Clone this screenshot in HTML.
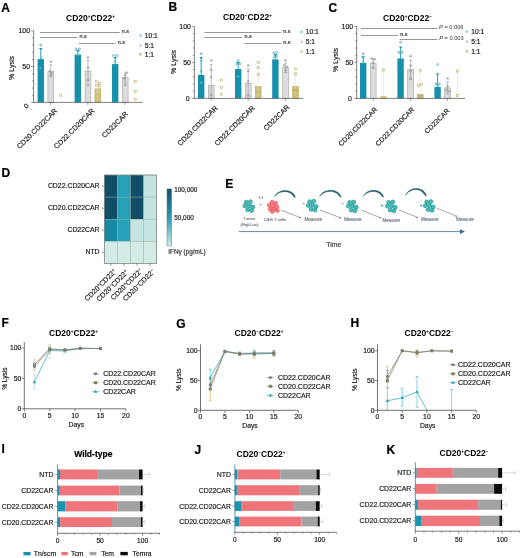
<!DOCTYPE html>
<html lang="en">
<head>
<meta charset="utf-8">
<title>Figure</title>
<style>html,body{margin:0;padding:0;background:#fff;}svg{display:block;}</style>
</head>
<body>
<svg width="520" height="558" viewBox="0 0 520 558" font-family='"Liberation Sans", Arial, Helvetica, sans-serif'>
<rect x="0" y="0" width="520" height="558" fill="#ffffff"/>
<text x="1.3" y="11.7" font-size="12" text-anchor="start" font-weight="bold" stroke="#000" stroke-width="0.2" fill="#000">A</text>
<text x="66" y="21" font-size="8.5" font-weight="bold" fill="#000">CD20<tspan font-size="4.6" dy="-3.1">+</tspan><tspan dy="3.1">CD22</tspan><tspan font-size="4.6" dy="-3.1">+</tspan></text>
<rect x="37.6" y="59.15" width="6.4" height="43.25" fill="#1790ab" stroke="none" stroke-width="0.5"/>
<line x1="40.8" y1="59.15" x2="40.8" y2="48.34" stroke="#1790ab" stroke-width="0.9"/>
<path d="M38.9 47.94 L42.7 47.94 L40.8 49.94 Z" fill="#1790ab"/>
<circle cx="40.8" cy="45.12" r="1.05" fill="#9fd3df" fill-opacity="0.55" stroke="#41a9c0" stroke-width="0.6"/>
<circle cx="41.1" cy="58.01" r="1.05" fill="#9fd3df" fill-opacity="0.55" stroke="#41a9c0" stroke-width="0.6"/>
<circle cx="40.3" cy="68.03" r="1.05" fill="#9fd3df" fill-opacity="0.55" stroke="#41a9c0" stroke-width="0.6"/>
<rect x="47.9" y="71.38" width="5.8" height="31.03" fill="#dcdcdc" stroke="#a3a3a3" stroke-width="0.6"/>
<line x1="50.8" y1="76.62" x2="50.8" y2="64.81" stroke="#8c8c8c" stroke-width="0.55"/>
<line x1="49.3" y1="64.81" x2="52.3" y2="64.81" stroke="#8c8c8c" stroke-width="0.55"/>
<line x1="49.3" y1="76.62" x2="52.3" y2="76.62" stroke="#8c8c8c" stroke-width="0.55"/>
<path d="M50.8 60.54 L51.85 62.43 L49.75 62.43 Z" fill="#b9b9b9" stroke="#8c8c8c" stroke-width="0.5"/>
<path d="M49.8 69.85 L50.85 71.74 L48.75 71.74 Z" fill="#b9b9b9" stroke="#8c8c8c" stroke-width="0.5"/>
<path d="M51.8 71.99 L52.85 73.88 L50.75 73.88 Z" fill="#b9b9b9" stroke="#8c8c8c" stroke-width="0.5"/>
<path d="M50.8 74.14 L51.85 76.03 L49.75 76.03 Z" fill="#b9b9b9" stroke="#8c8c8c" stroke-width="0.5"/>
<rect x="59.8" y="94.24" width="2" height="2" fill="none" stroke="#b9a85c" stroke-width="0.55"/>
<rect x="74.6" y="54.57" width="6.4" height="47.83" fill="#1790ab" stroke="none" stroke-width="0.5"/>
<line x1="77.8" y1="54.57" x2="77.8" y2="50.49" stroke="#1790ab" stroke-width="0.9"/>
<path d="M75.9 50.09 L79.7 50.09 L77.8 52.09 Z" fill="#1790ab"/>
<circle cx="76.2" cy="49.06" r="1.05" fill="#9fd3df" fill-opacity="0.55" stroke="#41a9c0" stroke-width="0.6"/>
<circle cx="79.4" cy="49.06" r="1.05" fill="#9fd3df" fill-opacity="0.55" stroke="#41a9c0" stroke-width="0.6"/>
<circle cx="77.8" cy="55.14" r="1.05" fill="#9fd3df" fill-opacity="0.55" stroke="#41a9c0" stroke-width="0.6"/>
<rect x="85.1" y="71.2" width="5.8" height="31.2" fill="#dcdcdc" stroke="#a3a3a3" stroke-width="0.6"/>
<line x1="88" y1="80.92" x2="88" y2="60.51" stroke="#8c8c8c" stroke-width="0.55"/>
<line x1="86.5" y1="60.51" x2="89.5" y2="60.51" stroke="#8c8c8c" stroke-width="0.55"/>
<line x1="86.5" y1="80.92" x2="89.5" y2="80.92" stroke="#8c8c8c" stroke-width="0.55"/>
<path d="M88 56.24 L89.05 58.13 L86.95 58.13 Z" fill="#b9b9b9" stroke="#8c8c8c" stroke-width="0.5"/>
<path d="M88 66.27 L89.05 68.16 L86.95 68.16 Z" fill="#b9b9b9" stroke="#8c8c8c" stroke-width="0.5"/>
<path d="M88 78.44 L89.05 80.33 L86.95 80.33 Z" fill="#b9b9b9" stroke="#8c8c8c" stroke-width="0.5"/>
<path d="M88 83.45 L89.05 85.34 L86.95 85.34 Z" fill="#b9b9b9" stroke="#8c8c8c" stroke-width="0.5"/>
<rect x="94.9" y="88.88" width="5.8" height="13.52" fill="#d0c380" stroke="#b5a659" stroke-width="0.6"/>
<line x1="97.8" y1="92.38" x2="97.8" y2="84.5" stroke="#e3dcb8" stroke-width="0.55"/>
<line x1="96.3" y1="84.5" x2="99.3" y2="84.5" stroke="#e3dcb8" stroke-width="0.55"/>
<line x1="96.3" y1="92.38" x2="99.3" y2="92.38" stroke="#e3dcb8" stroke-width="0.55"/>
<rect x="95.3" y="80.64" width="2" height="2" fill="none" stroke="#b9a85c" stroke-width="0.55"/>
<rect x="98.3" y="82.07" width="2" height="2" fill="none" stroke="#b9a85c" stroke-width="0.55"/>
<rect x="95.3" y="84.22" width="2" height="2" fill="none" stroke="#b9a85c" stroke-width="0.55"/>
<rect x="98.3" y="84.93" width="2" height="2" fill="none" stroke="#b9a85c" stroke-width="0.55"/>
<rect x="112" y="64.09" width="6.4" height="38.31" fill="#1790ab" stroke="none" stroke-width="0.5"/>
<line x1="115.2" y1="64.09" x2="115.2" y2="57.29" stroke="#1790ab" stroke-width="0.9"/>
<path d="M113.3 56.89 L117.1 56.89 L115.2 58.89 Z" fill="#1790ab"/>
<circle cx="113.6" cy="55.5" r="1.05" fill="#9fd3df" fill-opacity="0.55" stroke="#41a9c0" stroke-width="0.6"/>
<circle cx="116.8" cy="55.5" r="1.05" fill="#9fd3df" fill-opacity="0.55" stroke="#41a9c0" stroke-width="0.6"/>
<circle cx="115.2" cy="61.59" r="1.05" fill="#9fd3df" fill-opacity="0.55" stroke="#41a9c0" stroke-width="0.6"/>
<rect x="122.3" y="77.35" width="5.8" height="25.05" fill="#dcdcdc" stroke="#a3a3a3" stroke-width="0.6"/>
<line x1="125.2" y1="82.35" x2="125.2" y2="73.04" stroke="#8c8c8c" stroke-width="0.55"/>
<line x1="123.7" y1="73.04" x2="126.7" y2="73.04" stroke="#8c8c8c" stroke-width="0.55"/>
<line x1="123.7" y1="82.35" x2="126.7" y2="82.35" stroke="#8c8c8c" stroke-width="0.55"/>
<path d="M126.7 71.28 L127.75 73.17 L125.65 73.17 Z" fill="#b9b9b9" stroke="#8c8c8c" stroke-width="0.5"/>
<path d="M125.2 74.14 L126.25 76.03 L124.15 76.03 Z" fill="#b9b9b9" stroke="#8c8c8c" stroke-width="0.5"/>
<path d="M124 77.01 L125.05 78.9 L122.95 78.9 Z" fill="#b9b9b9" stroke="#8c8c8c" stroke-width="0.5"/>
<path d="M125.2 83.45 L126.25 85.34 L124.15 85.34 Z" fill="#b9b9b9" stroke="#8c8c8c" stroke-width="0.5"/>
<rect x="134.2" y="80.64" width="2" height="2" fill="none" stroke="#b9a85c" stroke-width="0.55"/>
<rect x="134.2" y="90.66" width="2" height="2" fill="none" stroke="#b9a85c" stroke-width="0.55"/>
<rect x="134.2" y="98.54" width="2" height="2" fill="none" stroke="#b9a85c" stroke-width="0.55"/>
<line x1="33.6" y1="30.6" x2="33.6" y2="102.75" stroke="#4d4d4d" stroke-width="0.7"/>
<line x1="33.25" y1="102.4" x2="142.4" y2="102.4" stroke="#4d4d4d" stroke-width="0.7"/>
<line x1="31" y1="102.4" x2="33.6" y2="102.4" stroke="#4d4d4d" stroke-width="0.55"/>
<line x1="32" y1="95.24" x2="33.6" y2="95.24" stroke="#4d4d4d" stroke-width="0.55"/>
<line x1="32" y1="88.08" x2="33.6" y2="88.08" stroke="#4d4d4d" stroke-width="0.55"/>
<line x1="32" y1="80.92" x2="33.6" y2="80.92" stroke="#4d4d4d" stroke-width="0.55"/>
<line x1="32" y1="73.76" x2="33.6" y2="73.76" stroke="#4d4d4d" stroke-width="0.55"/>
<line x1="31" y1="66.6" x2="33.6" y2="66.6" stroke="#4d4d4d" stroke-width="0.55"/>
<line x1="32" y1="59.44" x2="33.6" y2="59.44" stroke="#4d4d4d" stroke-width="0.55"/>
<line x1="32" y1="52.28" x2="33.6" y2="52.28" stroke="#4d4d4d" stroke-width="0.55"/>
<line x1="32" y1="45.12" x2="33.6" y2="45.12" stroke="#4d4d4d" stroke-width="0.55"/>
<line x1="32" y1="37.96" x2="33.6" y2="37.96" stroke="#4d4d4d" stroke-width="0.55"/>
<line x1="31" y1="30.8" x2="33.6" y2="30.8" stroke="#4d4d4d" stroke-width="0.55"/>
<text x="30" y="33.3" font-size="6.9" text-anchor="end" stroke="#1a1a1a" stroke-width="0.18" fill="#1a1a1a">100</text>
<text x="30" y="69.1" font-size="6.9" text-anchor="end" stroke="#1a1a1a" stroke-width="0.18" fill="#1a1a1a">50</text>
<text transform="translate(26,105.9) rotate(-45)" x="0" y="2.45" font-size="6.9" text-anchor="middle" fill="#1a1a1a" stroke="#1a1a1a" stroke-width="0.18">0</text>
<line x1="50.6" y1="102.4" x2="50.6" y2="104.8" stroke="#4d4d4d" stroke-width="0.55"/>
<text x="0" y="0" transform="translate(57.8,111.2) rotate(-45)" font-size="7.2" text-anchor="end" stroke="#1a1a1a" stroke-width="0.18" fill="#1a1a1a">CD20.CD22CAR</text>
<line x1="87.8" y1="102.4" x2="87.8" y2="104.8" stroke="#4d4d4d" stroke-width="0.55"/>
<text x="0" y="0" transform="translate(95,111.2) rotate(-45)" font-size="7.2" text-anchor="end" stroke="#1a1a1a" stroke-width="0.18" fill="#1a1a1a">CD22.CD20CAR</text>
<line x1="125" y1="102.4" x2="125" y2="104.8" stroke="#4d4d4d" stroke-width="0.55"/>
<text x="0" y="0" transform="translate(128.5,114.4) rotate(-45)" font-size="7.2" text-anchor="end" stroke="#1a1a1a" stroke-width="0.18" fill="#1a1a1a">CD22CAR</text>
<text x="0" y="0" transform="translate(13.7,68) rotate(-90)" font-size="7" text-anchor="middle" stroke="#1a1a1a" stroke-width="0.18" fill="#1a1a1a">% Lysis</text>
<line x1="40" y1="32.5" x2="119.6" y2="32.5" stroke="#505050" stroke-width="0.6"/>
<text x="121.8" y="33.4" font-size="5.4" text-anchor="start" stroke="#333" stroke-width="0.18" fill="#333">n.s</text>
<line x1="40" y1="37.5" x2="77.4" y2="37.5" stroke="#505050" stroke-width="0.6"/>
<text x="79.6" y="38.4" font-size="5.4" text-anchor="start" stroke="#333" stroke-width="0.18" fill="#333">n.s</text>
<line x1="79" y1="43.5" x2="115.6" y2="43.5" stroke="#505050" stroke-width="0.6"/>
<text x="117.8" y="44.4" font-size="5.4" text-anchor="start" stroke="#333" stroke-width="0.18" fill="#333">n.s</text>
<circle cx="140.6" cy="35.6" r="1.0" fill="#a8d9e2" stroke="#5bb9cc" stroke-width="0.5"/>
<text x="144.8" y="37.95" font-size="6.7" text-anchor="start" stroke="#1a1a1a" stroke-width="0.18" fill="#1a1a1a">10:1</text>
<path d="M140.6 44.2 l1 1.8 l-2 0 Z" fill="#cfcfcf" stroke="#9a9a9a" stroke-width="0.45"/>
<text x="144.8" y="47.55" font-size="6.7" text-anchor="start" stroke="#1a1a1a" stroke-width="0.18" fill="#1a1a1a">5:1</text>
<rect x="139.75" y="53.55" width="1.7" height="1.7" fill="#e2d9a8" stroke="#c2b36a" stroke-width="0.5"/>
<text x="144.8" y="56.75" font-size="6.7" text-anchor="start" stroke="#1a1a1a" stroke-width="0.18" fill="#1a1a1a">1:1</text>
<text x="168.4" y="11.2" font-size="12" text-anchor="start" font-weight="bold" stroke="#000" stroke-width="0.2" fill="#000">B</text>
<text x="223" y="20.1" font-size="8.5" font-weight="bold" fill="#000">CD20<tspan font-size="4.6" dy="-3.1">−</tspan><tspan dy="3.1">CD22</tspan><tspan font-size="4.6" dy="-3.1">+</tspan></text>
<rect x="198" y="75" width="6.4" height="23.4" fill="#1790ab" stroke="none" stroke-width="0.5"/>
<line x1="201.2" y1="75" x2="201.2" y2="57.36" stroke="#1790ab" stroke-width="0.9"/>
<path d="M199.3 56.96 L203.1 56.96 L201.2 58.96 Z" fill="#1790ab"/>
<circle cx="201.2" cy="53.76" r="1.05" fill="#9fd3df" fill-opacity="0.55" stroke="#41a9c0" stroke-width="0.6"/>
<circle cx="201.2" cy="60.96" r="1.05" fill="#9fd3df" fill-opacity="0.55" stroke="#41a9c0" stroke-width="0.6"/>
<circle cx="201.2" cy="71.04" r="1.05" fill="#9fd3df" fill-opacity="0.55" stroke="#41a9c0" stroke-width="0.6"/>
<circle cx="201.2" cy="82.56" r="1.05" fill="#9fd3df" fill-opacity="0.55" stroke="#41a9c0" stroke-width="0.6"/>
<rect x="208.3" y="85.31" width="5.8" height="13.09" fill="#dcdcdc" stroke="#a3a3a3" stroke-width="0.6"/>
<line x1="211.2" y1="98.4" x2="211.2" y2="64.56" stroke="#8c8c8c" stroke-width="0.55"/>
<line x1="209.7" y1="64.56" x2="212.7" y2="64.56" stroke="#8c8c8c" stroke-width="0.55"/>
<path d="M211.2 59.19 L212.25 61.08 L210.15 61.08 Z" fill="#b9b9b9" stroke="#8c8c8c" stroke-width="0.5"/>
<path d="M211.2 68.55 L212.25 70.44 L210.15 70.44 Z" fill="#b9b9b9" stroke="#8c8c8c" stroke-width="0.5"/>
<path d="M211.2 75.75 L212.25 77.64 L210.15 77.64 Z" fill="#b9b9b9" stroke="#8c8c8c" stroke-width="0.5"/>
<path d="M211.2 93.75 L212.25 95.64 L210.15 95.64 Z" fill="#b9b9b9" stroke="#8c8c8c" stroke-width="0.5"/>
<rect x="220.2" y="79.04" width="2" height="2" fill="none" stroke="#b9a85c" stroke-width="0.55"/>
<rect x="220.2" y="86.6" width="2" height="2" fill="none" stroke="#b9a85c" stroke-width="0.55"/>
<rect x="220.2" y="93.08" width="2" height="2" fill="none" stroke="#b9a85c" stroke-width="0.55"/>
<rect x="235" y="69.02" width="6.4" height="29.38" fill="#1790ab" stroke="none" stroke-width="0.5"/>
<line x1="238.2" y1="69.02" x2="238.2" y2="62.4" stroke="#1790ab" stroke-width="0.9"/>
<path d="M236.3 62 L240.1 62 L238.2 64 Z" fill="#1790ab"/>
<circle cx="238.2" cy="60.6" r="1.05" fill="#9fd3df" fill-opacity="0.55" stroke="#41a9c0" stroke-width="0.6"/>
<circle cx="236.6" cy="63.84" r="1.05" fill="#9fd3df" fill-opacity="0.55" stroke="#41a9c0" stroke-width="0.6"/>
<circle cx="239.8" cy="63.84" r="1.05" fill="#9fd3df" fill-opacity="0.55" stroke="#41a9c0" stroke-width="0.6"/>
<circle cx="238.2" cy="76.8" r="1.05" fill="#9fd3df" fill-opacity="0.55" stroke="#41a9c0" stroke-width="0.6"/>
<rect x="245.3" y="83.29" width="5.8" height="15.11" fill="#dcdcdc" stroke="#a3a3a3" stroke-width="0.6"/>
<line x1="248.2" y1="96.24" x2="248.2" y2="68.88" stroke="#8c8c8c" stroke-width="0.55"/>
<line x1="246.7" y1="68.88" x2="249.7" y2="68.88" stroke="#8c8c8c" stroke-width="0.55"/>
<line x1="246.7" y1="96.24" x2="249.7" y2="96.24" stroke="#8c8c8c" stroke-width="0.55"/>
<path d="M248.2 64.23 L249.25 66.12 L247.15 66.12 Z" fill="#b9b9b9" stroke="#8c8c8c" stroke-width="0.5"/>
<path d="M248.2 69.99 L249.25 71.88 L247.15 71.88 Z" fill="#b9b9b9" stroke="#8c8c8c" stroke-width="0.5"/>
<path d="M248.2 80.07 L249.25 81.96 L247.15 81.96 Z" fill="#b9b9b9" stroke="#8c8c8c" stroke-width="0.5"/>
<path d="M248.2 93.75 L249.25 95.64 L247.15 95.64 Z" fill="#b9b9b9" stroke="#8c8c8c" stroke-width="0.5"/>
<rect x="255.3" y="86.32" width="5.8" height="12.08" fill="#d0c380" stroke="#b5a659" stroke-width="0.6"/>
<line x1="258.2" y1="94.8" x2="258.2" y2="68.16" stroke="#e3dcb8" stroke-width="0.55"/>
<line x1="256.7" y1="68.16" x2="259.7" y2="68.16" stroke="#e3dcb8" stroke-width="0.55"/>
<line x1="256.7" y1="94.8" x2="259.7" y2="94.8" stroke="#e3dcb8" stroke-width="0.55"/>
<rect x="257.2" y="61.4" width="2" height="2" fill="none" stroke="#b9a85c" stroke-width="0.55"/>
<rect x="257.2" y="66.44" width="2" height="2" fill="none" stroke="#b9a85c" stroke-width="0.55"/>
<rect x="257.2" y="73.64" width="2" height="2" fill="none" stroke="#b9a85c" stroke-width="0.55"/>
<rect x="257.2" y="91.64" width="2" height="2" fill="none" stroke="#b9a85c" stroke-width="0.55"/>
<rect x="272.2" y="59.38" width="6.4" height="39.02" fill="#1790ab" stroke="none" stroke-width="0.5"/>
<line x1="275.4" y1="59.38" x2="275.4" y2="54.48" stroke="#1790ab" stroke-width="0.9"/>
<path d="M273.5 54.08 L277.3 54.08 L275.4 56.08 Z" fill="#1790ab"/>
<circle cx="273.9" cy="52.68" r="1.05" fill="#9fd3df" fill-opacity="0.55" stroke="#41a9c0" stroke-width="0.6"/>
<circle cx="276.9" cy="52.68" r="1.05" fill="#9fd3df" fill-opacity="0.55" stroke="#41a9c0" stroke-width="0.6"/>
<circle cx="274.2" cy="56.64" r="1.05" fill="#9fd3df" fill-opacity="0.55" stroke="#41a9c0" stroke-width="0.6"/>
<circle cx="276.8" cy="56.28" r="1.05" fill="#9fd3df" fill-opacity="0.55" stroke="#41a9c0" stroke-width="0.6"/>
<rect x="282.7" y="67.31" width="5.8" height="31.09" fill="#dcdcdc" stroke="#a3a3a3" stroke-width="0.6"/>
<line x1="285.6" y1="72.48" x2="285.6" y2="63.12" stroke="#8c8c8c" stroke-width="0.55"/>
<line x1="284.1" y1="63.12" x2="287.1" y2="63.12" stroke="#8c8c8c" stroke-width="0.55"/>
<line x1="284.1" y1="72.48" x2="287.1" y2="72.48" stroke="#8c8c8c" stroke-width="0.55"/>
<path d="M285.6 59.19 L286.65 61.08 L284.55 61.08 Z" fill="#b9b9b9" stroke="#8c8c8c" stroke-width="0.5"/>
<path d="M284.1 64.23 L285.15 66.12 L283.05 66.12 Z" fill="#b9b9b9" stroke="#8c8c8c" stroke-width="0.5"/>
<path d="M287.1 65.67 L288.15 67.56 L286.05 67.56 Z" fill="#b9b9b9" stroke="#8c8c8c" stroke-width="0.5"/>
<path d="M285.6 68.55 L286.65 70.44 L284.55 70.44 Z" fill="#b9b9b9" stroke="#8c8c8c" stroke-width="0.5"/>
<rect x="292.7" y="86.68" width="5.8" height="11.72" fill="#d0c380" stroke="#b5a659" stroke-width="0.6"/>
<line x1="295.6" y1="96.24" x2="295.6" y2="72.48" stroke="#e3dcb8" stroke-width="0.55"/>
<line x1="294.1" y1="72.48" x2="297.1" y2="72.48" stroke="#e3dcb8" stroke-width="0.55"/>
<line x1="294.1" y1="96.24" x2="297.1" y2="96.24" stroke="#e3dcb8" stroke-width="0.55"/>
<rect x="294.6" y="67.88" width="2" height="2" fill="none" stroke="#b9a85c" stroke-width="0.55"/>
<rect x="294.6" y="72.92" width="2" height="2" fill="none" stroke="#b9a85c" stroke-width="0.55"/>
<rect x="293.2" y="89.48" width="2" height="2" fill="none" stroke="#b9a85c" stroke-width="0.55"/>
<rect x="296" y="89.48" width="2" height="2" fill="none" stroke="#b9a85c" stroke-width="0.55"/>
<rect x="294.6" y="94.52" width="2" height="2" fill="none" stroke="#b9a85c" stroke-width="0.55"/>
<line x1="194.4" y1="26.2" x2="194.4" y2="98.75" stroke="#4d4d4d" stroke-width="0.7"/>
<line x1="194.05" y1="98.4" x2="303" y2="98.4" stroke="#4d4d4d" stroke-width="0.7"/>
<line x1="191.8" y1="98.4" x2="194.4" y2="98.4" stroke="#4d4d4d" stroke-width="0.55"/>
<line x1="192.8" y1="91.2" x2="194.4" y2="91.2" stroke="#4d4d4d" stroke-width="0.55"/>
<line x1="192.8" y1="84" x2="194.4" y2="84" stroke="#4d4d4d" stroke-width="0.55"/>
<line x1="192.8" y1="76.8" x2="194.4" y2="76.8" stroke="#4d4d4d" stroke-width="0.55"/>
<line x1="192.8" y1="69.6" x2="194.4" y2="69.6" stroke="#4d4d4d" stroke-width="0.55"/>
<line x1="191.8" y1="62.4" x2="194.4" y2="62.4" stroke="#4d4d4d" stroke-width="0.55"/>
<line x1="192.8" y1="55.2" x2="194.4" y2="55.2" stroke="#4d4d4d" stroke-width="0.55"/>
<line x1="192.8" y1="48" x2="194.4" y2="48" stroke="#4d4d4d" stroke-width="0.55"/>
<line x1="192.8" y1="40.8" x2="194.4" y2="40.8" stroke="#4d4d4d" stroke-width="0.55"/>
<line x1="192.8" y1="33.6" x2="194.4" y2="33.6" stroke="#4d4d4d" stroke-width="0.55"/>
<line x1="191.8" y1="26.4" x2="194.4" y2="26.4" stroke="#4d4d4d" stroke-width="0.55"/>
<text x="190.8" y="28.9" font-size="6.9" text-anchor="end" stroke="#1a1a1a" stroke-width="0.18" fill="#1a1a1a">100</text>
<text x="190.8" y="64.9" font-size="6.9" text-anchor="end" stroke="#1a1a1a" stroke-width="0.18" fill="#1a1a1a">50</text>
<text x="189.5" y="101.3" font-size="6.9" text-anchor="end" stroke="#1a1a1a" stroke-width="0.18" fill="#1a1a1a">0</text>
<line x1="211.2" y1="98.4" x2="211.2" y2="100.8" stroke="#4d4d4d" stroke-width="0.55"/>
<text x="0" y="0" transform="translate(218.1,108.5) rotate(-45)" font-size="7.1" text-anchor="end" stroke="#1a1a1a" stroke-width="0.18" fill="#1a1a1a">CD20.CD22CAR</text>
<line x1="248.2" y1="98.4" x2="248.2" y2="100.8" stroke="#4d4d4d" stroke-width="0.55"/>
<text x="0" y="0" transform="translate(255.1,108.5) rotate(-45)" font-size="7.1" text-anchor="end" stroke="#1a1a1a" stroke-width="0.18" fill="#1a1a1a">CD22.CD20CAR</text>
<line x1="285.6" y1="98.4" x2="285.6" y2="100.8" stroke="#4d4d4d" stroke-width="0.55"/>
<text x="0" y="0" transform="translate(289.9,107.7) rotate(-45)" font-size="7.1" text-anchor="end" stroke="#1a1a1a" stroke-width="0.18" fill="#1a1a1a">CD22CAR</text>
<text x="0" y="0" transform="translate(175.6,62) rotate(-90)" font-size="7" text-anchor="middle" stroke="#1a1a1a" stroke-width="0.18" fill="#1a1a1a">% Lysis</text>
<line x1="204.4" y1="32.5" x2="281" y2="32.5" stroke="#505050" stroke-width="0.6"/>
<text x="283.2" y="33.4" font-size="5.4" text-anchor="start" stroke="#333" stroke-width="0.18" fill="#333">n.s</text>
<line x1="204.4" y1="37.5" x2="242.4" y2="37.5" stroke="#505050" stroke-width="0.6"/>
<text x="244.6" y="38.4" font-size="5.4" text-anchor="start" stroke="#333" stroke-width="0.18" fill="#333">n.s</text>
<line x1="244.4" y1="43.5" x2="281" y2="43.5" stroke="#505050" stroke-width="0.6"/>
<text x="283.2" y="44.4" font-size="5.4" text-anchor="start" stroke="#333" stroke-width="0.18" fill="#333">n.s</text>
<circle cx="301.6" cy="32" r="1.0" fill="#a8d9e2" stroke="#5bb9cc" stroke-width="0.5"/>
<text x="305.8" y="34.35" font-size="6.7" text-anchor="start" stroke="#1a1a1a" stroke-width="0.18" fill="#1a1a1a">10:1</text>
<path d="M301.6 40.6 l1 1.8 l-2 0 Z" fill="#cfcfcf" stroke="#9a9a9a" stroke-width="0.45"/>
<text x="305.8" y="43.95" font-size="6.7" text-anchor="start" stroke="#1a1a1a" stroke-width="0.18" fill="#1a1a1a">5:1</text>
<rect x="300.75" y="50.75" width="1.7" height="1.7" fill="#e2d9a8" stroke="#c2b36a" stroke-width="0.5"/>
<text x="305.8" y="53.95" font-size="6.7" text-anchor="start" stroke="#1a1a1a" stroke-width="0.18" fill="#1a1a1a">1:1</text>
<text x="328.6" y="11.6" font-size="12" text-anchor="start" font-weight="bold" stroke="#000" stroke-width="0.2" fill="#000">C</text>
<text x="383" y="21.2" font-size="8.5" font-weight="bold" fill="#000">CD20<tspan font-size="4.6" dy="-3.1">+</tspan><tspan dy="3.1">CD22</tspan><tspan font-size="4.6" dy="-3.1">−</tspan></text>
<rect x="360" y="62.98" width="6.4" height="35.42" fill="#1790ab" stroke="none" stroke-width="0.5"/>
<line x1="363.2" y1="62.98" x2="363.2" y2="56.64" stroke="#1790ab" stroke-width="0.9"/>
<path d="M361.3 56.24 L365.1 56.24 L363.2 58.24 Z" fill="#1790ab"/>
<circle cx="363.2" cy="53.76" r="1.05" fill="#9fd3df" fill-opacity="0.55" stroke="#41a9c0" stroke-width="0.6"/>
<circle cx="363.2" cy="57.36" r="1.05" fill="#9fd3df" fill-opacity="0.55" stroke="#41a9c0" stroke-width="0.6"/>
<circle cx="363.2" cy="62.4" r="1.05" fill="#9fd3df" fill-opacity="0.55" stroke="#41a9c0" stroke-width="0.6"/>
<rect x="370.3" y="63.42" width="5.8" height="34.98" fill="#dcdcdc" stroke="#a3a3a3" stroke-width="0.6"/>
<line x1="373.2" y1="68.16" x2="373.2" y2="58.8" stroke="#8c8c8c" stroke-width="0.55"/>
<line x1="371.7" y1="58.8" x2="374.7" y2="58.8" stroke="#8c8c8c" stroke-width="0.55"/>
<line x1="371.7" y1="68.16" x2="374.7" y2="68.16" stroke="#8c8c8c" stroke-width="0.55"/>
<path d="M371.7 57.39 L372.75 59.28 L370.65 59.28 Z" fill="#b9b9b9" stroke="#8c8c8c" stroke-width="0.5"/>
<path d="M374.7 58.11 L375.75 60 L373.65 60 Z" fill="#b9b9b9" stroke="#8c8c8c" stroke-width="0.5"/>
<path d="M373.2 61.35 L374.25 63.24 L372.15 63.24 Z" fill="#b9b9b9" stroke="#8c8c8c" stroke-width="0.5"/>
<path d="M373.2 66.39 L374.25 68.28 L372.15 68.28 Z" fill="#b9b9b9" stroke="#8c8c8c" stroke-width="0.5"/>
<rect x="380.7" y="97.84" width="5.8" height="0.56" fill="#d0c380" stroke="#b5a659" stroke-width="0.6"/>
<line x1="383.6" y1="97.68" x2="383.6" y2="70.32" stroke="#e3dcb8" stroke-width="0.55"/>
<line x1="382.1" y1="70.32" x2="385.1" y2="70.32" stroke="#e3dcb8" stroke-width="0.55"/>
<line x1="382.1" y1="97.68" x2="385.1" y2="97.68" stroke="#e3dcb8" stroke-width="0.55"/>
<rect x="382.6" y="68.96" width="2" height="2" fill="none" stroke="#b9a85c" stroke-width="0.55"/>
<rect x="381.1" y="96.32" width="2" height="2" fill="none" stroke="#b9a85c" stroke-width="0.55"/>
<rect x="384.1" y="96.32" width="2" height="2" fill="none" stroke="#b9a85c" stroke-width="0.55"/>
<rect x="397.4" y="58.44" width="6.4" height="39.96" fill="#1790ab" stroke="none" stroke-width="0.5"/>
<line x1="400.6" y1="58.44" x2="400.6" y2="46.92" stroke="#1790ab" stroke-width="0.9"/>
<path d="M398.7 46.52 L402.5 46.52 L400.6 48.52 Z" fill="#1790ab"/>
<circle cx="400.6" cy="42.24" r="1.05" fill="#9fd3df" fill-opacity="0.55" stroke="#41a9c0" stroke-width="0.6"/>
<circle cx="398.8" cy="52.32" r="1.05" fill="#9fd3df" fill-opacity="0.55" stroke="#41a9c0" stroke-width="0.6"/>
<circle cx="400.6" cy="53.04" r="1.05" fill="#9fd3df" fill-opacity="0.55" stroke="#41a9c0" stroke-width="0.6"/>
<circle cx="402.4" cy="52.32" r="1.05" fill="#9fd3df" fill-opacity="0.55" stroke="#41a9c0" stroke-width="0.6"/>
<rect x="407.7" y="69.32" width="5.8" height="29.08" fill="#dcdcdc" stroke="#a3a3a3" stroke-width="0.6"/>
<line x1="410.6" y1="78.24" x2="410.6" y2="60.24" stroke="#8c8c8c" stroke-width="0.55"/>
<line x1="409.1" y1="60.24" x2="412.1" y2="60.24" stroke="#8c8c8c" stroke-width="0.55"/>
<line x1="409.1" y1="78.24" x2="412.1" y2="78.24" stroke="#8c8c8c" stroke-width="0.55"/>
<path d="M410.6 54.87 L411.65 56.76 L409.55 56.76 Z" fill="#b9b9b9" stroke="#8c8c8c" stroke-width="0.5"/>
<path d="M410.6 64.23 L411.65 66.12 L409.55 66.12 Z" fill="#b9b9b9" stroke="#8c8c8c" stroke-width="0.5"/>
<path d="M410.6 69.99 L411.65 71.88 L409.55 71.88 Z" fill="#b9b9b9" stroke="#8c8c8c" stroke-width="0.5"/>
<path d="M410.6 77.91 L411.65 79.8 L409.55 79.8 Z" fill="#b9b9b9" stroke="#8c8c8c" stroke-width="0.5"/>
<rect x="417.3" y="94.38" width="5.8" height="4.02" fill="#d0c380" stroke="#b5a659" stroke-width="0.6"/>
<line x1="420.2" y1="97.68" x2="420.2" y2="72.48" stroke="#e3dcb8" stroke-width="0.55"/>
<line x1="418.7" y1="72.48" x2="421.7" y2="72.48" stroke="#e3dcb8" stroke-width="0.55"/>
<line x1="418.7" y1="97.68" x2="421.7" y2="97.68" stroke="#e3dcb8" stroke-width="0.55"/>
<rect x="419.2" y="69.68" width="2" height="2" fill="none" stroke="#b9a85c" stroke-width="0.55"/>
<rect x="417.7" y="84.44" width="2" height="2" fill="none" stroke="#b9a85c" stroke-width="0.55"/>
<rect x="420.7" y="83.72" width="2" height="2" fill="none" stroke="#b9a85c" stroke-width="0.55"/>
<rect x="417.9" y="95.24" width="2" height="2" fill="none" stroke="#b9a85c" stroke-width="0.55"/>
<rect x="420.5" y="95.24" width="2" height="2" fill="none" stroke="#b9a85c" stroke-width="0.55"/>
<rect x="434.4" y="87.02" width="6.4" height="11.38" fill="#1790ab" stroke="none" stroke-width="0.5"/>
<line x1="437.6" y1="87.02" x2="437.6" y2="73.92" stroke="#1790ab" stroke-width="0.9"/>
<path d="M435.7 73.52 L439.5 73.52 L437.6 75.52 Z" fill="#1790ab"/>
<circle cx="437.6" cy="64.56" r="1.05" fill="#9fd3df" fill-opacity="0.55" stroke="#41a9c0" stroke-width="0.6"/>
<circle cx="435.9" cy="84" r="1.05" fill="#9fd3df" fill-opacity="0.55" stroke="#41a9c0" stroke-width="0.6"/>
<circle cx="437.6" cy="85.44" r="1.05" fill="#9fd3df" fill-opacity="0.55" stroke="#41a9c0" stroke-width="0.6"/>
<circle cx="439.3" cy="84" r="1.05" fill="#9fd3df" fill-opacity="0.55" stroke="#41a9c0" stroke-width="0.6"/>
<rect x="444.7" y="87.9" width="5.8" height="10.5" fill="#dcdcdc" stroke="#a3a3a3" stroke-width="0.6"/>
<line x1="447.6" y1="94.08" x2="447.6" y2="81.84" stroke="#8c8c8c" stroke-width="0.55"/>
<line x1="446.1" y1="81.84" x2="449.1" y2="81.84" stroke="#8c8c8c" stroke-width="0.55"/>
<line x1="446.1" y1="94.08" x2="449.1" y2="94.08" stroke="#8c8c8c" stroke-width="0.55"/>
<path d="M447.6 77.19 L448.65 79.08 L446.55 79.08 Z" fill="#b9b9b9" stroke="#8c8c8c" stroke-width="0.5"/>
<path d="M447.6 85.11 L448.65 87 L446.55 87 Z" fill="#b9b9b9" stroke="#8c8c8c" stroke-width="0.5"/>
<path d="M446.2 88.71 L447.25 90.6 L445.15 90.6 Z" fill="#b9b9b9" stroke="#8c8c8c" stroke-width="0.5"/>
<path d="M449 90.15 L450.05 92.04 L447.95 92.04 Z" fill="#b9b9b9" stroke="#8c8c8c" stroke-width="0.5"/>
<line x1="457.4" y1="96.24" x2="457.4" y2="71.76" stroke="#e3dcb8" stroke-width="0.55"/>
<line x1="455.9" y1="71.76" x2="458.9" y2="71.76" stroke="#e3dcb8" stroke-width="0.55"/>
<line x1="455.9" y1="96.24" x2="458.9" y2="96.24" stroke="#e3dcb8" stroke-width="0.55"/>
<rect x="456.4" y="70.04" width="2" height="2" fill="none" stroke="#b9a85c" stroke-width="0.55"/>
<rect x="456.4" y="94.52" width="2" height="2" fill="none" stroke="#b9a85c" stroke-width="0.55"/>
<line x1="356.7" y1="26.2" x2="356.7" y2="98.75" stroke="#4d4d4d" stroke-width="0.7"/>
<line x1="356.35" y1="98.4" x2="465" y2="98.4" stroke="#4d4d4d" stroke-width="0.7"/>
<line x1="354.1" y1="98.4" x2="356.7" y2="98.4" stroke="#4d4d4d" stroke-width="0.55"/>
<line x1="355.1" y1="91.2" x2="356.7" y2="91.2" stroke="#4d4d4d" stroke-width="0.55"/>
<line x1="355.1" y1="84" x2="356.7" y2="84" stroke="#4d4d4d" stroke-width="0.55"/>
<line x1="355.1" y1="76.8" x2="356.7" y2="76.8" stroke="#4d4d4d" stroke-width="0.55"/>
<line x1="355.1" y1="69.6" x2="356.7" y2="69.6" stroke="#4d4d4d" stroke-width="0.55"/>
<line x1="354.1" y1="62.4" x2="356.7" y2="62.4" stroke="#4d4d4d" stroke-width="0.55"/>
<line x1="355.1" y1="55.2" x2="356.7" y2="55.2" stroke="#4d4d4d" stroke-width="0.55"/>
<line x1="355.1" y1="48" x2="356.7" y2="48" stroke="#4d4d4d" stroke-width="0.55"/>
<line x1="355.1" y1="40.8" x2="356.7" y2="40.8" stroke="#4d4d4d" stroke-width="0.55"/>
<line x1="355.1" y1="33.6" x2="356.7" y2="33.6" stroke="#4d4d4d" stroke-width="0.55"/>
<line x1="354.1" y1="26.4" x2="356.7" y2="26.4" stroke="#4d4d4d" stroke-width="0.55"/>
<text x="353.1" y="28.9" font-size="6.9" text-anchor="end" stroke="#1a1a1a" stroke-width="0.18" fill="#1a1a1a">100</text>
<text x="353.1" y="64.9" font-size="6.9" text-anchor="end" stroke="#1a1a1a" stroke-width="0.18" fill="#1a1a1a">50</text>
<text x="351.8" y="101.3" font-size="6.9" text-anchor="end" stroke="#1a1a1a" stroke-width="0.18" fill="#1a1a1a">0</text>
<line x1="373.4" y1="98.4" x2="373.4" y2="100.8" stroke="#4d4d4d" stroke-width="0.55"/>
<text x="0" y="0" transform="translate(377.8,109.9) rotate(-45)" font-size="6.9" text-anchor="end" stroke="#1a1a1a" stroke-width="0.18" fill="#1a1a1a">CD20.CD22CAR</text>
<line x1="410.4" y1="98.4" x2="410.4" y2="100.8" stroke="#4d4d4d" stroke-width="0.55"/>
<text x="0" y="0" transform="translate(414.8,109.9) rotate(-45)" font-size="6.9" text-anchor="end" stroke="#1a1a1a" stroke-width="0.18" fill="#1a1a1a">CD22.CD20CAR</text>
<line x1="447.4" y1="98.4" x2="447.4" y2="100.8" stroke="#4d4d4d" stroke-width="0.55"/>
<text x="0" y="0" transform="translate(450,111.2) rotate(-45)" font-size="6.9" text-anchor="end" stroke="#1a1a1a" stroke-width="0.18" fill="#1a1a1a">CD22CAR</text>
<text x="0" y="0" transform="translate(338.4,60) rotate(-90)" font-size="7" text-anchor="middle" stroke="#1a1a1a" stroke-width="0.18" fill="#1a1a1a">% Lysis</text>
<line x1="361" y1="28.5" x2="437.4" y2="28.5" stroke="#505050" stroke-width="0.6"/>
<text x="439" y="29.1" font-size="5.7" fill="#333"><tspan font-style="italic">P</tspan> = 0.006</text>
<line x1="361" y1="35.5" x2="398" y2="35.5" stroke="#505050" stroke-width="0.6"/>
<text x="400.2" y="36.4" font-size="5.4" text-anchor="start" stroke="#333" stroke-width="0.18" fill="#333">n.s</text>
<line x1="399.6" y1="39.5" x2="437.6" y2="39.5" stroke="#505050" stroke-width="0.6"/>
<text x="439.2" y="40.1" font-size="5.7" fill="#333"><tspan font-style="italic">P</tspan> = 0.003</text>
<circle cx="467" cy="31.6" r="1.0" fill="#a8d9e2" stroke="#5bb9cc" stroke-width="0.5"/>
<text x="471.2" y="33.95" font-size="6.7" text-anchor="start" stroke="#1a1a1a" stroke-width="0.18" fill="#1a1a1a">10:1</text>
<path d="M467 40.4 l1 1.8 l-2 0 Z" fill="#cfcfcf" stroke="#9a9a9a" stroke-width="0.45"/>
<text x="471.2" y="43.75" font-size="6.7" text-anchor="start" stroke="#1a1a1a" stroke-width="0.18" fill="#1a1a1a">5:1</text>
<rect x="466.15" y="50.55" width="1.7" height="1.7" fill="#e2d9a8" stroke="#c2b36a" stroke-width="0.5"/>
<text x="471.2" y="53.75" font-size="6.7" text-anchor="start" stroke="#1a1a1a" stroke-width="0.18" fill="#1a1a1a">1:1</text>
<text x="1.6" y="177" font-size="12" text-anchor="start" font-weight="bold" stroke="#000" stroke-width="0.2" fill="#000">D</text>
<rect x="104.3" y="175" width="13.1" height="22.1" fill="#0f4e66" stroke="#93a5a1" stroke-width="0.4"/>
<rect x="117.4" y="175" width="13.1" height="22.1" fill="#27a0b9" stroke="#93a5a1" stroke-width="0.4"/>
<rect x="130.5" y="175" width="13.1" height="22.1" fill="#0f4e66" stroke="#93a5a1" stroke-width="0.4"/>
<rect x="143.6" y="175" width="13.1" height="22.1" fill="#c3e4df" stroke="#93a5a1" stroke-width="0.4"/>
<rect x="104.3" y="197.1" width="13.1" height="22.1" fill="#0f4e66" stroke="#93a5a1" stroke-width="0.4"/>
<rect x="117.4" y="197.1" width="13.1" height="22.1" fill="#27a0b9" stroke="#93a5a1" stroke-width="0.4"/>
<rect x="130.5" y="197.1" width="13.1" height="22.1" fill="#0f4e66" stroke="#93a5a1" stroke-width="0.4"/>
<rect x="143.6" y="197.1" width="13.1" height="22.1" fill="#c3e4df" stroke="#93a5a1" stroke-width="0.4"/>
<rect x="104.3" y="219.2" width="13.1" height="22.1" fill="#1889a3" stroke="#93a5a1" stroke-width="0.4"/>
<rect x="117.4" y="219.2" width="13.1" height="22.1" fill="#27a0b9" stroke="#93a5a1" stroke-width="0.4"/>
<rect x="130.5" y="219.2" width="13.1" height="22.1" fill="#c3e4df" stroke="#93a5a1" stroke-width="0.4"/>
<rect x="143.6" y="219.2" width="13.1" height="22.1" fill="#c8e6e1" stroke="#93a5a1" stroke-width="0.4"/>
<rect x="104.3" y="241.3" width="13.1" height="22.1" fill="#d2ebe6" stroke="#93a5a1" stroke-width="0.4"/>
<rect x="117.4" y="241.3" width="13.1" height="22.1" fill="#d2ebe6" stroke="#93a5a1" stroke-width="0.4"/>
<rect x="130.5" y="241.3" width="13.1" height="22.1" fill="#d2ebe6" stroke="#93a5a1" stroke-width="0.4"/>
<rect x="143.6" y="241.3" width="13.1" height="22.1" fill="#d2ebe6" stroke="#93a5a1" stroke-width="0.4"/>
<rect x="104.3" y="175" width="52.4" height="88.4" fill="none" stroke="#6f7b78" stroke-width="0.6"/>
<line x1="101.7" y1="186.05" x2="104.3" y2="186.05" stroke="#4d4d4d" stroke-width="0.6"/>
<text x="99.6" y="188.05" font-size="6.9" text-anchor="end" stroke="#1a1a1a" stroke-width="0.18" fill="#1a1a1a">CD22.CD20CAR</text>
<line x1="101.7" y1="208.15" x2="104.3" y2="208.15" stroke="#4d4d4d" stroke-width="0.6"/>
<text x="99.6" y="210.15" font-size="6.9" text-anchor="end" stroke="#1a1a1a" stroke-width="0.18" fill="#1a1a1a">CD20.CD22CAR</text>
<line x1="101.7" y1="230.25" x2="104.3" y2="230.25" stroke="#4d4d4d" stroke-width="0.6"/>
<text x="99.6" y="232.25" font-size="6.9" text-anchor="end" stroke="#1a1a1a" stroke-width="0.18" fill="#1a1a1a">CD22CAR</text>
<line x1="101.7" y1="252.35" x2="104.3" y2="252.35" stroke="#4d4d4d" stroke-width="0.6"/>
<text x="99.6" y="254.35" font-size="6.9" text-anchor="end" stroke="#1a1a1a" stroke-width="0.18" fill="#1a1a1a">NTD</text>
<line x1="110.85" y1="263.4" x2="110.85" y2="265.8" stroke="#4d4d4d" stroke-width="0.6"/>
<text transform="translate(116.65,272.2) rotate(-45)" font-size="7.1" text-anchor="end" fill="#1a1a1a" stroke="#1a1a1a" stroke-width="0.15">CD20<tspan font-size="4.4" dy="-2.4">+</tspan><tspan dy="2.4">CD22</tspan><tspan font-size="4.4" dy="-2.4">+</tspan></text>
<line x1="123.95" y1="263.4" x2="123.95" y2="265.8" stroke="#4d4d4d" stroke-width="0.6"/>
<text transform="translate(128.55,272.8) rotate(-45)" font-size="7.1" text-anchor="end" fill="#1a1a1a" stroke="#1a1a1a" stroke-width="0.15">CD20<tspan font-size="4.4" dy="-2.4">−</tspan><tspan dy="2.4">CD22</tspan><tspan font-size="4.4" dy="-2.4">+</tspan></text>
<line x1="137.05" y1="263.4" x2="137.05" y2="265.8" stroke="#4d4d4d" stroke-width="0.6"/>
<text transform="translate(142.85,271.3) rotate(-45)" font-size="7.1" text-anchor="end" fill="#1a1a1a" stroke="#1a1a1a" stroke-width="0.15">CD20<tspan font-size="4.4" dy="-2.4">+</tspan><tspan dy="2.4">CD22</tspan><tspan font-size="4.4" dy="-2.4">−</tspan></text>
<line x1="150.15" y1="263.4" x2="150.15" y2="265.8" stroke="#4d4d4d" stroke-width="0.6"/>
<text transform="translate(155.15,272.2) rotate(-45)" font-size="7.1" text-anchor="end" fill="#1a1a1a" stroke="#1a1a1a" stroke-width="0.15">CD20<tspan font-size="4.4" dy="-2.4">−</tspan><tspan dy="2.4">CD22</tspan><tspan font-size="4.4" dy="-2.4">−</tspan></text>
<defs><linearGradient id="cb" x1="0" y1="0" x2="0" y2="1"><stop offset="0" stop-color="#0f4e66"/><stop offset="0.5" stop-color="#239ab3"/><stop offset="1" stop-color="#d2ebe6"/></linearGradient></defs>
<rect x="167" y="188.9" width="4.6" height="57.1" fill="url(#cb)" stroke="#6f7b78" stroke-width="0.5"/>
<text x="174.2" y="192.4" font-size="6.4" text-anchor="start" stroke="#1a1a1a" stroke-width="0.18" fill="#1a1a1a">100,000</text>
<text x="174.2" y="220" font-size="6.4" text-anchor="start" stroke="#1a1a1a" stroke-width="0.18" fill="#1a1a1a">50,000</text>
<text x="168.3" y="254.3" font-size="6.4" text-anchor="start" stroke="#333" stroke-width="0.18" fill="#333">IFNγ (pg/mL)</text>
<text x="225.2" y="188" font-size="12" text-anchor="start" font-weight="bold" stroke="#000" stroke-width="0.2" fill="#000">E</text>
<circle cx="246.3" cy="202.2" r="2" fill="#48bfba" stroke="#158a88" stroke-width="0.6"/>
<circle cx="250.4" cy="201.8" r="2" fill="#48bfba" stroke="#158a88" stroke-width="0.6"/>
<circle cx="244.9" cy="205.9" r="2" fill="#48bfba" stroke="#158a88" stroke-width="0.6"/>
<circle cx="249.1" cy="205.8" r="2" fill="#48bfba" stroke="#158a88" stroke-width="0.6"/>
<circle cx="252.8" cy="207.1" r="2" fill="#48bfba" stroke="#158a88" stroke-width="0.6"/>
<circle cx="247.7" cy="209.8" r="2" fill="#48bfba" stroke="#158a88" stroke-width="0.6"/>
<circle cx="251.6" cy="210.5" r="2" fill="#48bfba" stroke="#158a88" stroke-width="0.6"/>
<circle cx="272.1" cy="202.2" r="1.9" fill="#f5858a" stroke="#e63a44" stroke-width="0.6"/>
<circle cx="275.8" cy="203.1" r="1.9" fill="#f5858a" stroke="#e63a44" stroke-width="0.6"/>
<circle cx="269.2" cy="205.1" r="1.9" fill="#f5858a" stroke="#e63a44" stroke-width="0.6"/>
<circle cx="273" cy="205.9" r="1.9" fill="#f5858a" stroke="#e63a44" stroke-width="0.6"/>
<circle cx="276.8" cy="206.8" r="1.9" fill="#f5858a" stroke="#e63a44" stroke-width="0.6"/>
<circle cx="270.2" cy="209" r="1.9" fill="#f5858a" stroke="#e63a44" stroke-width="0.6"/>
<circle cx="274" cy="209.6" r="1.9" fill="#f5858a" stroke="#e63a44" stroke-width="0.6"/>
<circle cx="277.4" cy="210.5" r="1.9" fill="#f5858a" stroke="#e63a44" stroke-width="0.6"/>
<circle cx="272.3" cy="211.6" r="1.9" fill="#f5858a" stroke="#e63a44" stroke-width="0.6"/>
<circle cx="309.7" cy="201.7" r="2" fill="#48bfba" stroke="#158a88" stroke-width="0.6"/>
<circle cx="313.8" cy="201.3" r="2" fill="#48bfba" stroke="#158a88" stroke-width="0.6"/>
<circle cx="308.3" cy="205.4" r="2" fill="#48bfba" stroke="#158a88" stroke-width="0.6"/>
<circle cx="312.5" cy="205.3" r="2" fill="#48bfba" stroke="#158a88" stroke-width="0.6"/>
<circle cx="316.2" cy="206.6" r="2" fill="#48bfba" stroke="#158a88" stroke-width="0.6"/>
<circle cx="311.1" cy="209.3" r="2" fill="#48bfba" stroke="#158a88" stroke-width="0.6"/>
<circle cx="315" cy="210" r="2" fill="#48bfba" stroke="#158a88" stroke-width="0.6"/>
<circle cx="349.7" cy="202.4" r="2" fill="#48bfba" stroke="#158a88" stroke-width="0.6"/>
<circle cx="353.8" cy="202" r="2" fill="#48bfba" stroke="#158a88" stroke-width="0.6"/>
<circle cx="348.3" cy="206.1" r="2" fill="#48bfba" stroke="#158a88" stroke-width="0.6"/>
<circle cx="352.5" cy="206" r="2" fill="#48bfba" stroke="#158a88" stroke-width="0.6"/>
<circle cx="356.2" cy="207.3" r="2" fill="#48bfba" stroke="#158a88" stroke-width="0.6"/>
<circle cx="351.1" cy="210" r="2" fill="#48bfba" stroke="#158a88" stroke-width="0.6"/>
<circle cx="355" cy="210.7" r="2" fill="#48bfba" stroke="#158a88" stroke-width="0.6"/>
<circle cx="388.7" cy="202.4" r="2" fill="#48bfba" stroke="#158a88" stroke-width="0.6"/>
<circle cx="392.8" cy="202" r="2" fill="#48bfba" stroke="#158a88" stroke-width="0.6"/>
<circle cx="387.3" cy="206.1" r="2" fill="#48bfba" stroke="#158a88" stroke-width="0.6"/>
<circle cx="391.5" cy="206" r="2" fill="#48bfba" stroke="#158a88" stroke-width="0.6"/>
<circle cx="395.2" cy="207.3" r="2" fill="#48bfba" stroke="#158a88" stroke-width="0.6"/>
<circle cx="390.1" cy="210" r="2" fill="#48bfba" stroke="#158a88" stroke-width="0.6"/>
<circle cx="394" cy="210.7" r="2" fill="#48bfba" stroke="#158a88" stroke-width="0.6"/>
<circle cx="426.7" cy="202" r="2" fill="#48bfba" stroke="#158a88" stroke-width="0.6"/>
<circle cx="430.8" cy="201.6" r="2" fill="#48bfba" stroke="#158a88" stroke-width="0.6"/>
<circle cx="425.3" cy="205.7" r="2" fill="#48bfba" stroke="#158a88" stroke-width="0.6"/>
<circle cx="429.5" cy="205.6" r="2" fill="#48bfba" stroke="#158a88" stroke-width="0.6"/>
<circle cx="433.2" cy="206.9" r="2" fill="#48bfba" stroke="#158a88" stroke-width="0.6"/>
<circle cx="428.1" cy="209.6" r="2" fill="#48bfba" stroke="#158a88" stroke-width="0.6"/>
<circle cx="432" cy="210.3" r="2" fill="#48bfba" stroke="#158a88" stroke-width="0.6"/>
<text x="261" y="199.3" font-size="3.4" text-anchor="middle" stroke="#77828f" stroke-width="0.18" fill="#77828f">1:1</text>
<text x="260.6" y="205.6" font-size="4.6" text-anchor="middle" stroke="#aab3bd" stroke-width="0.18" fill="#aab3bd">+</text>
<text x="303.8" y="205.2" font-size="4.6" text-anchor="middle" stroke="#c3a9ad" stroke-width="0.18" fill="#c3a9ad">+</text>
<text x="342.8" y="205.2" font-size="4.6" text-anchor="middle" stroke="#a9b9c0" stroke-width="0.18" fill="#a9b9c0">+</text>
<text x="382.2" y="206.5" font-size="4.6" text-anchor="middle" stroke="#2a9a9c" stroke-width="0.18" fill="#2a9a9c">+</text>
<text x="421.2" y="206.5" font-size="4.6" text-anchor="middle" stroke="#2a9a9c" stroke-width="0.18" fill="#2a9a9c">+</text>
<defs><marker id="ah" viewBox="0 0 10 10" refX="8" refY="5" markerWidth="3.6" markerHeight="3.6" orient="auto"><path d="M0 1 L10 5 L0 9 Z" fill="#5a4f57"/></marker></defs>
<line x1="281.2" y1="210.2" x2="300.8" y2="217.8" stroke="#6e5560" stroke-width="0.55" marker-end="url(#ah)"/>
<line x1="320" y1="210" x2="341" y2="218" stroke="#6e5560" stroke-width="0.55" marker-end="url(#ah)"/>
<line x1="361" y1="210" x2="381" y2="218" stroke="#6e5560" stroke-width="0.55" marker-end="url(#ah)"/>
<line x1="399" y1="210" x2="418" y2="217.6" stroke="#6e5560" stroke-width="0.55" marker-end="url(#ah)"/>
<line x1="437" y1="208.2" x2="457" y2="216.4" stroke="#6e5560" stroke-width="0.55" marker-end="url(#ah)"/>
<path d="M274.4 197 C277.6 188.33 292 188.33 295.2 196.4 L295.1 197.8 L293.5 196.4 C290.6 190 278.6 190 274.4 197 Z" fill="#1c5d64" stroke="#1c5d64" stroke-width="0.35" stroke-linejoin="round"/>
<path d="M319.6 196.6 C322.8 188.2 337.6 188.2 340.8 196 L340.7 197.4 L339.1 196 C336.2 189.87 323.8 189.87 319.6 196.6 Z" fill="#1c5d64" stroke="#1c5d64" stroke-width="0.35" stroke-linejoin="round"/>
<path d="M363.2 196.6 C366.4 188.2 380.2 188.2 383.4 196 L383.3 197.4 L381.7 196 C378.8 189.87 367.4 189.87 363.2 196.6 Z" fill="#1c5d64" stroke="#1c5d64" stroke-width="0.35" stroke-linejoin="round"/>
<path d="M405.6 195.4 C408.8 186.2 423 186.2 426.2 194.8 L426.1 196.2 L424.5 194.8 C421.6 187.87 409.8 187.87 405.6 195.4 Z" fill="#1c5d64" stroke="#1c5d64" stroke-width="0.35" stroke-linejoin="round"/>
<text x="249.4" y="220" font-size="4.1" text-anchor="middle" stroke="#77828f" stroke-width="0.18" fill="#77828f">Tumor</text>
<text x="249.4" y="225.8" font-size="4.1" text-anchor="middle" stroke="#77828f" stroke-width="0.18" fill="#77828f">(Raji-Luc)</text>
<text x="275" y="220.8" font-size="4.3" text-anchor="middle" stroke="#77828f" stroke-width="0.18" fill="#77828f">CAR T cells</text>
<text x="313.2" y="220.8" font-size="4.5" text-anchor="middle" stroke="#77828f" stroke-width="0.18" fill="#77828f">Measure</text>
<text x="352.7" y="221.4" font-size="4.5" text-anchor="middle" stroke="#77828f" stroke-width="0.18" fill="#77828f">Measure</text>
<text x="391.3" y="222" font-size="4.5" text-anchor="middle" stroke="#77828f" stroke-width="0.18" fill="#77828f">Measure</text>
<text x="429.8" y="220.8" font-size="4.5" text-anchor="middle" stroke="#77828f" stroke-width="0.18" fill="#77828f">Measure</text>
<text x="465" y="221.4" font-size="4.5" text-anchor="middle" stroke="#77828f" stroke-width="0.18" fill="#77828f">Measure</text>
<line x1="238.6" y1="231.6" x2="461" y2="231.6" stroke="#43648a" stroke-width="0.8"/>
<path d="M460.0 229.3 L465.0 231.6 L460.0 233.9 Z" fill="#43648a"/>
<text x="333.8" y="246.9" font-size="6.9" text-anchor="middle" stroke="#3a3a3a" stroke-width="0.18" fill="#3a3a3a">Time</text>
<text x="1.6" y="326.9" font-size="12" text-anchor="start" font-weight="bold" stroke="#000" stroke-width="0.2" fill="#000">F</text>
<text x="49" y="336.2" font-size="8.5" font-weight="bold" fill="#000">CD20<tspan font-size="4.6" dy="-3.1">+</tspan><tspan dy="3.1">CD22</tspan><tspan font-size="4.6" dy="-3.1">+</tspan></text>
<line x1="34.46" y1="389.34" x2="34.46" y2="374.14" stroke="#a9d9e2" stroke-width="0.6"/>
<line x1="32.96" y1="374.14" x2="35.96" y2="374.14" stroke="#a9d9e2" stroke-width="0.6"/>
<line x1="32.96" y1="389.34" x2="35.96" y2="389.34" stroke="#a9d9e2" stroke-width="0.6"/>
<line x1="49.7" y1="358.34" x2="49.7" y2="346.18" stroke="#a9d9e2" stroke-width="0.6"/>
<line x1="48.2" y1="346.18" x2="51.2" y2="346.18" stroke="#a9d9e2" stroke-width="0.6"/>
<line x1="48.2" y1="358.34" x2="51.2" y2="358.34" stroke="#a9d9e2" stroke-width="0.6"/>
<line x1="64.94" y1="352.86" x2="64.94" y2="349.22" stroke="#a9d9e2" stroke-width="0.6"/>
<line x1="63.44" y1="349.22" x2="66.44" y2="349.22" stroke="#a9d9e2" stroke-width="0.6"/>
<line x1="63.44" y1="352.86" x2="66.44" y2="352.86" stroke="#a9d9e2" stroke-width="0.6"/>
<path d="M34.46 382.05 L49.7 350.43 L64.94 351.04 L80.18 348.3 L100.5 348.61" fill="none" stroke="#2aa3bb" stroke-width="0.7"/>
<path d="M34.46 380.25 L36.06 383.25 L32.86 383.25 Z" fill="#1f9bb5"/>
<path d="M49.7 348.63 L51.3 351.63 L48.1 351.63 Z" fill="#1f9bb5"/>
<path d="M64.94 349.24 L66.54 352.24 L63.34 352.24 Z" fill="#1f9bb5"/>
<path d="M80.18 346.5 L81.78 349.5 L78.58 349.5 Z" fill="#1f9bb5"/>
<path d="M100.5 346.81 L102.1 349.81 L98.9 349.81 Z" fill="#1f9bb5"/>
<line x1="34.46" y1="369.28" x2="34.46" y2="358.94" stroke="#e3c9a3" stroke-width="0.6"/>
<line x1="32.96" y1="358.94" x2="35.96" y2="358.94" stroke="#e3c9a3" stroke-width="0.6"/>
<line x1="32.96" y1="369.28" x2="35.96" y2="369.28" stroke="#e3c9a3" stroke-width="0.6"/>
<line x1="49.7" y1="354.08" x2="49.7" y2="344.35" stroke="#e3c9a3" stroke-width="0.6"/>
<line x1="48.2" y1="344.35" x2="51.2" y2="344.35" stroke="#e3c9a3" stroke-width="0.6"/>
<line x1="48.2" y1="354.08" x2="51.2" y2="354.08" stroke="#e3c9a3" stroke-width="0.6"/>
<line x1="64.94" y1="351.65" x2="64.94" y2="348.61" stroke="#e3c9a3" stroke-width="0.6"/>
<line x1="63.44" y1="348.61" x2="66.44" y2="348.61" stroke="#e3c9a3" stroke-width="0.6"/>
<line x1="63.44" y1="351.65" x2="66.44" y2="351.65" stroke="#e3c9a3" stroke-width="0.6"/>
<path d="M34.46 364.42 L49.7 348.61 L64.94 350.13 L80.18 348.3 L100.5 348.61" fill="none" stroke="#84804e" stroke-width="0.7"/>
<rect x="33.01" y="362.97" width="2.9" height="2.9" fill="#7d7c46"/>
<rect x="48.25" y="347.16" width="2.9" height="2.9" fill="#7d7c46"/>
<rect x="63.49" y="348.68" width="2.9" height="2.9" fill="#7d7c46"/>
<rect x="78.73" y="346.85" width="2.9" height="2.9" fill="#7d7c46"/>
<rect x="99.05" y="347.16" width="2.9" height="2.9" fill="#7d7c46"/>
<line x1="34.46" y1="371.1" x2="34.46" y2="361.38" stroke="#c4c4c4" stroke-width="0.6"/>
<line x1="32.96" y1="361.38" x2="35.96" y2="361.38" stroke="#c4c4c4" stroke-width="0.6"/>
<line x1="32.96" y1="371.1" x2="35.96" y2="371.1" stroke="#c4c4c4" stroke-width="0.6"/>
<line x1="49.7" y1="352.86" x2="49.7" y2="346.18" stroke="#c4c4c4" stroke-width="0.6"/>
<line x1="48.2" y1="346.18" x2="51.2" y2="346.18" stroke="#c4c4c4" stroke-width="0.6"/>
<line x1="48.2" y1="352.86" x2="51.2" y2="352.86" stroke="#c4c4c4" stroke-width="0.6"/>
<line x1="64.94" y1="351.04" x2="64.94" y2="348.61" stroke="#c4c4c4" stroke-width="0.6"/>
<line x1="63.44" y1="348.61" x2="66.44" y2="348.61" stroke="#c4c4c4" stroke-width="0.6"/>
<line x1="63.44" y1="351.04" x2="66.44" y2="351.04" stroke="#c4c4c4" stroke-width="0.6"/>
<path d="M34.46 366.54 L49.7 349.52 L64.94 349.82 L80.18 348.3 L100.5 348.61" fill="none" stroke="#7d7d7d" stroke-width="0.7"/>
<circle cx="34.46" cy="366.54" r="1.5" fill="#7a7a7a"/>
<circle cx="49.7" cy="349.52" r="1.5" fill="#7a7a7a"/>
<circle cx="64.94" cy="349.82" r="1.5" fill="#7a7a7a"/>
<circle cx="80.18" cy="348.3" r="1.5" fill="#7a7a7a"/>
<circle cx="100.5" cy="348.61" r="1.5" fill="#7a7a7a"/>
<line x1="24.3" y1="342.2" x2="24.3" y2="409.15" stroke="#4d4d4d" stroke-width="0.8"/>
<line x1="23.9" y1="408.8" x2="125.9" y2="408.8" stroke="#4d4d4d" stroke-width="0.8"/>
<line x1="21.7" y1="408.8" x2="24.3" y2="408.8" stroke="#4d4d4d" stroke-width="0.7"/>
<text x="21.3" y="411.25" font-size="6.8" text-anchor="end" stroke="#1a1a1a" stroke-width="0.18" fill="#1a1a1a">0</text>
<line x1="21.7" y1="378.4" x2="24.3" y2="378.4" stroke="#4d4d4d" stroke-width="0.7"/>
<text x="21.3" y="380.85" font-size="6.8" text-anchor="end" stroke="#1a1a1a" stroke-width="0.18" fill="#1a1a1a">50</text>
<line x1="21.7" y1="348" x2="24.3" y2="348" stroke="#4d4d4d" stroke-width="0.7"/>
<text x="21.3" y="350.45" font-size="6.8" text-anchor="end" stroke="#1a1a1a" stroke-width="0.18" fill="#1a1a1a">100</text>
<line x1="24.3" y1="408.8" x2="24.3" y2="411.4" stroke="#4d4d4d" stroke-width="0.7"/>
<text x="24.3" y="418.2" font-size="6.8" text-anchor="middle" stroke="#1a1a1a" stroke-width="0.18" fill="#1a1a1a">0</text>
<line x1="49.7" y1="408.8" x2="49.7" y2="411.4" stroke="#4d4d4d" stroke-width="0.7"/>
<text x="49.7" y="418.2" font-size="6.8" text-anchor="middle" stroke="#1a1a1a" stroke-width="0.18" fill="#1a1a1a">5</text>
<line x1="75.1" y1="408.8" x2="75.1" y2="411.4" stroke="#4d4d4d" stroke-width="0.7"/>
<text x="75.1" y="418.2" font-size="6.8" text-anchor="middle" stroke="#1a1a1a" stroke-width="0.18" fill="#1a1a1a">10</text>
<line x1="100.5" y1="408.8" x2="100.5" y2="411.4" stroke="#4d4d4d" stroke-width="0.7"/>
<text x="100.5" y="418.2" font-size="6.8" text-anchor="middle" stroke="#1a1a1a" stroke-width="0.18" fill="#1a1a1a">15</text>
<line x1="125.9" y1="408.8" x2="125.9" y2="411.4" stroke="#4d4d4d" stroke-width="0.7"/>
<text x="125.9" y="418.2" font-size="6.8" text-anchor="middle" stroke="#1a1a1a" stroke-width="0.18" fill="#1a1a1a">20</text>
<text x="76.3" y="427" font-size="6.8" text-anchor="middle" stroke="#1a1a1a" stroke-width="0.18" fill="#1a1a1a">Days</text>
<text x="0" y="0" transform="translate(6.8,378.6) rotate(-90)" font-size="6.6" text-anchor="middle" stroke="#1a1a1a" stroke-width="0.18" fill="#1a1a1a">% Lysis</text>
<line x1="92.3" y1="373.8" x2="98.9" y2="373.8" stroke="#7d7d7d" stroke-width="0.7"/>
<circle cx="95.6" cy="373.8" r="1.5" fill="#7a7a7a"/>
<text x="103.2" y="376.3" font-size="7" text-anchor="start" stroke="#1a1a1a" stroke-width="0.18" fill="#1a1a1a">CD22.CD20CAR</text>
<line x1="92.3" y1="382.7" x2="98.9" y2="382.7" stroke="#84804e" stroke-width="0.7"/>
<rect x="94.15" y="381.25" width="2.9" height="2.9" fill="#7d7c46"/>
<text x="103.2" y="385.2" font-size="7" text-anchor="start" stroke="#1a1a1a" stroke-width="0.18" fill="#1a1a1a">CD20.CD22CAR</text>
<line x1="92.3" y1="391.6" x2="98.9" y2="391.6" stroke="#2aa3bb" stroke-width="0.7"/>
<path d="M95.6 389.8 L97.2 392.8 L94 392.8 Z" fill="#1f9bb5"/>
<text x="103.2" y="394.1" font-size="7" text-anchor="start" stroke="#1a1a1a" stroke-width="0.18" fill="#1a1a1a">CD22CAR</text>
<text x="176.2" y="327.6" font-size="12" text-anchor="start" font-weight="bold" stroke="#000" stroke-width="0.2" fill="#000">G</text>
<text x="234.5" y="336.2" font-size="8.5" font-weight="bold" fill="#000">CD20<tspan font-size="4.6" dy="-3.1">−</tspan><tspan dy="3.1">CD22</tspan><tspan font-size="4.6" dy="-3.1">+</tspan></text>
<line x1="210.28" y1="385.31" x2="210.28" y2="369.25" stroke="#35b3cc" stroke-width="0.6"/>
<line x1="208.78" y1="369.25" x2="211.78" y2="369.25" stroke="#35b3cc" stroke-width="0.6"/>
<line x1="208.78" y1="385.31" x2="211.78" y2="385.31" stroke="#35b3cc" stroke-width="0.6"/>
<line x1="239.62" y1="354.97" x2="239.62" y2="351.99" stroke="#35b3cc" stroke-width="0.6"/>
<line x1="238.12" y1="351.99" x2="241.12" y2="351.99" stroke="#35b3cc" stroke-width="0.6"/>
<line x1="238.12" y1="354.97" x2="241.12" y2="354.97" stroke="#35b3cc" stroke-width="0.6"/>
<line x1="254.29" y1="355.56" x2="254.29" y2="350.21" stroke="#35b3cc" stroke-width="0.6"/>
<line x1="252.79" y1="350.21" x2="255.79" y2="350.21" stroke="#35b3cc" stroke-width="0.6"/>
<line x1="252.79" y1="355.56" x2="255.79" y2="355.56" stroke="#35b3cc" stroke-width="0.6"/>
<line x1="273.85" y1="354.97" x2="273.85" y2="350.8" stroke="#35b3cc" stroke-width="0.6"/>
<line x1="272.35" y1="350.8" x2="275.35" y2="350.8" stroke="#35b3cc" stroke-width="0.6"/>
<line x1="272.35" y1="354.97" x2="275.35" y2="354.97" stroke="#35b3cc" stroke-width="0.6"/>
<path d="M210.28 377.57 L224.95 351.4 L239.62 353.48 L254.29 352.88 L273.85 352.88" fill="none" stroke="#2aa3bb" stroke-width="0.7"/>
<path d="M210.28 375.77 L211.88 378.77 L208.68 378.77 Z" fill="#1f9bb5"/>
<path d="M224.95 349.6 L226.55 352.6 L223.35 352.6 Z" fill="#1f9bb5"/>
<path d="M239.62 351.68 L241.22 354.68 L238.02 354.68 Z" fill="#1f9bb5"/>
<path d="M254.29 351.08 L255.89 354.08 L252.69 354.08 Z" fill="#1f9bb5"/>
<path d="M273.85 351.08 L275.45 354.08 L272.25 354.08 Z" fill="#1f9bb5"/>
<line x1="210.28" y1="400.78" x2="210.28" y2="382.93" stroke="#c9a24f" stroke-width="0.6"/>
<line x1="208.78" y1="382.93" x2="211.78" y2="382.93" stroke="#c9a24f" stroke-width="0.6"/>
<line x1="208.78" y1="400.78" x2="211.78" y2="400.78" stroke="#c9a24f" stroke-width="0.6"/>
<line x1="239.62" y1="355.56" x2="239.62" y2="352.59" stroke="#c9a24f" stroke-width="0.6"/>
<line x1="238.12" y1="352.59" x2="241.12" y2="352.59" stroke="#c9a24f" stroke-width="0.6"/>
<line x1="238.12" y1="355.56" x2="241.12" y2="355.56" stroke="#c9a24f" stroke-width="0.6"/>
<line x1="254.29" y1="357.94" x2="254.29" y2="351.4" stroke="#c9a24f" stroke-width="0.6"/>
<line x1="252.79" y1="351.4" x2="255.79" y2="351.4" stroke="#c9a24f" stroke-width="0.6"/>
<line x1="252.79" y1="357.94" x2="255.79" y2="357.94" stroke="#c9a24f" stroke-width="0.6"/>
<line x1="273.85" y1="355.56" x2="273.85" y2="351.4" stroke="#c9a24f" stroke-width="0.6"/>
<line x1="272.35" y1="351.4" x2="275.35" y2="351.4" stroke="#c9a24f" stroke-width="0.6"/>
<line x1="272.35" y1="355.56" x2="275.35" y2="355.56" stroke="#c9a24f" stroke-width="0.6"/>
<path d="M210.28 388.88 L224.95 351.4 L239.62 354.07 L254.29 354.07 L273.85 353.48" fill="none" stroke="#84804e" stroke-width="0.7"/>
<rect x="208.83" y="387.43" width="2.9" height="2.9" fill="#7d7c46"/>
<rect x="223.5" y="349.95" width="2.9" height="2.9" fill="#7d7c46"/>
<rect x="238.17" y="352.62" width="2.9" height="2.9" fill="#7d7c46"/>
<rect x="252.84" y="352.62" width="2.9" height="2.9" fill="#7d7c46"/>
<rect x="272.4" y="352.03" width="2.9" height="2.9" fill="#7d7c46"/>
<line x1="210.28" y1="390.07" x2="210.28" y2="379.36" stroke="#8a8a8a" stroke-width="0.6"/>
<line x1="208.78" y1="379.36" x2="211.78" y2="379.36" stroke="#8a8a8a" stroke-width="0.6"/>
<line x1="208.78" y1="390.07" x2="211.78" y2="390.07" stroke="#8a8a8a" stroke-width="0.6"/>
<line x1="239.62" y1="354.97" x2="239.62" y2="352.59" stroke="#8a8a8a" stroke-width="0.6"/>
<line x1="238.12" y1="352.59" x2="241.12" y2="352.59" stroke="#8a8a8a" stroke-width="0.6"/>
<line x1="238.12" y1="354.97" x2="241.12" y2="354.97" stroke="#8a8a8a" stroke-width="0.6"/>
<line x1="254.29" y1="354.97" x2="254.29" y2="351.99" stroke="#8a8a8a" stroke-width="0.6"/>
<line x1="252.79" y1="351.99" x2="255.79" y2="351.99" stroke="#8a8a8a" stroke-width="0.6"/>
<line x1="252.79" y1="354.97" x2="255.79" y2="354.97" stroke="#8a8a8a" stroke-width="0.6"/>
<line x1="273.85" y1="356.16" x2="273.85" y2="350.8" stroke="#8a8a8a" stroke-width="0.6"/>
<line x1="272.35" y1="350.8" x2="275.35" y2="350.8" stroke="#8a8a8a" stroke-width="0.6"/>
<line x1="272.35" y1="356.16" x2="275.35" y2="356.16" stroke="#8a8a8a" stroke-width="0.6"/>
<path d="M210.28 384.72 L224.95 351.4 L239.62 353.78 L254.29 353.48 L273.85 353.18" fill="none" stroke="#7d7d7d" stroke-width="0.7"/>
<circle cx="210.28" cy="384.72" r="1.5" fill="#7a7a7a"/>
<circle cx="224.95" cy="351.4" r="1.5" fill="#7a7a7a"/>
<circle cx="239.62" cy="353.78" r="1.5" fill="#7a7a7a"/>
<circle cx="254.29" cy="353.48" r="1.5" fill="#7a7a7a"/>
<circle cx="273.85" cy="353.18" r="1.5" fill="#7a7a7a"/>
<line x1="200.5" y1="344.4" x2="200.5" y2="410.65" stroke="#4d4d4d" stroke-width="0.8"/>
<line x1="200.1" y1="410.3" x2="298.3" y2="410.3" stroke="#4d4d4d" stroke-width="0.8"/>
<line x1="197.9" y1="410.3" x2="200.5" y2="410.3" stroke="#4d4d4d" stroke-width="0.7"/>
<text x="197.5" y="412.75" font-size="6.8" text-anchor="end" stroke="#1a1a1a" stroke-width="0.18" fill="#1a1a1a">0</text>
<line x1="197.9" y1="380.55" x2="200.5" y2="380.55" stroke="#4d4d4d" stroke-width="0.7"/>
<text x="197.5" y="383" font-size="6.8" text-anchor="end" stroke="#1a1a1a" stroke-width="0.18" fill="#1a1a1a">50</text>
<line x1="197.9" y1="350.8" x2="200.5" y2="350.8" stroke="#4d4d4d" stroke-width="0.7"/>
<text x="197.5" y="353.25" font-size="6.8" text-anchor="end" stroke="#1a1a1a" stroke-width="0.18" fill="#1a1a1a">100</text>
<line x1="200.5" y1="410.3" x2="200.5" y2="412.9" stroke="#4d4d4d" stroke-width="0.7"/>
<text x="200.5" y="419.3" font-size="6.8" text-anchor="middle" stroke="#1a1a1a" stroke-width="0.18" fill="#1a1a1a">0</text>
<line x1="224.95" y1="410.3" x2="224.95" y2="412.9" stroke="#4d4d4d" stroke-width="0.7"/>
<text x="224.95" y="419.3" font-size="6.8" text-anchor="middle" stroke="#1a1a1a" stroke-width="0.18" fill="#1a1a1a">5</text>
<line x1="249.4" y1="410.3" x2="249.4" y2="412.9" stroke="#4d4d4d" stroke-width="0.7"/>
<text x="249.4" y="419.3" font-size="6.8" text-anchor="middle" stroke="#1a1a1a" stroke-width="0.18" fill="#1a1a1a">10</text>
<line x1="273.85" y1="410.3" x2="273.85" y2="412.9" stroke="#4d4d4d" stroke-width="0.7"/>
<text x="273.85" y="419.3" font-size="6.8" text-anchor="middle" stroke="#1a1a1a" stroke-width="0.18" fill="#1a1a1a">15</text>
<line x1="298.3" y1="410.3" x2="298.3" y2="412.9" stroke="#4d4d4d" stroke-width="0.7"/>
<text x="298.3" y="419.3" font-size="6.8" text-anchor="middle" stroke="#1a1a1a" stroke-width="0.18" fill="#1a1a1a">20</text>
<text x="250" y="427.6" font-size="6.8" text-anchor="middle" stroke="#1a1a1a" stroke-width="0.18" fill="#1a1a1a">Days</text>
<text x="0" y="0" transform="translate(181.2,379.8) rotate(-90)" font-size="6.6" text-anchor="middle" stroke="#1a1a1a" stroke-width="0.18" fill="#1a1a1a">% Lysis</text>
<line x1="267.1" y1="377.6" x2="273.7" y2="377.6" stroke="#7d7d7d" stroke-width="0.7"/>
<circle cx="270.4" cy="377.6" r="1.5" fill="#7a7a7a"/>
<text x="278" y="380.1" font-size="7" text-anchor="start" stroke="#1a1a1a" stroke-width="0.18" fill="#1a1a1a">CD22.CD20CAR</text>
<line x1="267.1" y1="386.3" x2="273.7" y2="386.3" stroke="#84804e" stroke-width="0.7"/>
<rect x="268.95" y="384.85" width="2.9" height="2.9" fill="#7d7c46"/>
<text x="278" y="388.8" font-size="7" text-anchor="start" stroke="#1a1a1a" stroke-width="0.18" fill="#1a1a1a">CD20.CD22CAR</text>
<line x1="267.1" y1="395.3" x2="273.7" y2="395.3" stroke="#2aa3bb" stroke-width="0.7"/>
<path d="M270.4 393.5 L272 396.5 L268.8 396.5 Z" fill="#1f9bb5"/>
<text x="278" y="397.8" font-size="7" text-anchor="start" stroke="#1a1a1a" stroke-width="0.18" fill="#1a1a1a">CD22CAR</text>
<text x="350.6" y="327.4" font-size="12" text-anchor="start" font-weight="bold" stroke="#000" stroke-width="0.2" fill="#000">H</text>
<text x="404.5" y="336.2" font-size="8.5" font-weight="bold" fill="#000">CD20<tspan font-size="4.6" dy="-3.1">+</tspan><tspan dy="3.1">CD22</tspan><tspan font-size="4.6" dy="-3.1">−</tspan></text>
<line x1="387.38" y1="410.3" x2="387.38" y2="387.69" stroke="#35b3cc" stroke-width="0.6"/>
<line x1="385.88" y1="387.69" x2="388.88" y2="387.69" stroke="#35b3cc" stroke-width="0.6"/>
<line x1="402.2" y1="406.13" x2="402.2" y2="388.29" stroke="#35b3cc" stroke-width="0.6"/>
<line x1="400.7" y1="388.29" x2="403.7" y2="388.29" stroke="#35b3cc" stroke-width="0.6"/>
<line x1="400.7" y1="406.13" x2="403.7" y2="406.13" stroke="#35b3cc" stroke-width="0.6"/>
<line x1="417.02" y1="407.32" x2="417.02" y2="376.38" stroke="#35b3cc" stroke-width="0.6"/>
<line x1="415.52" y1="376.38" x2="418.52" y2="376.38" stroke="#35b3cc" stroke-width="0.6"/>
<line x1="415.52" y1="407.32" x2="418.52" y2="407.32" stroke="#35b3cc" stroke-width="0.6"/>
<path d="M387.38 400.78 L402.2 397.81 L417.02 391.86 L426.9 410.3" fill="none" stroke="#2aa3bb" stroke-width="0.7"/>
<path d="M387.38 398.98 L388.98 401.98 L385.78 401.98 Z" fill="#1f9bb5"/>
<path d="M402.2 396 L403.8 399 L400.6 399 Z" fill="#1f9bb5"/>
<path d="M417.02 390.06 L418.62 393.06 L415.42 393.06 Z" fill="#1f9bb5"/>
<line x1="387.38" y1="387.69" x2="387.38" y2="366.87" stroke="#c9a24f" stroke-width="0.6"/>
<line x1="385.88" y1="366.87" x2="388.88" y2="366.87" stroke="#c9a24f" stroke-width="0.6"/>
<line x1="385.88" y1="387.69" x2="388.88" y2="387.69" stroke="#c9a24f" stroke-width="0.6"/>
<line x1="417.02" y1="356.75" x2="417.02" y2="350.21" stroke="#c9a24f" stroke-width="0.6"/>
<line x1="415.52" y1="350.21" x2="418.52" y2="350.21" stroke="#c9a24f" stroke-width="0.6"/>
<line x1="415.52" y1="356.75" x2="418.52" y2="356.75" stroke="#c9a24f" stroke-width="0.6"/>
<path d="M387.38 380.55 L402.2 350.8 L417.02 352.88 L431.84 350.8 L451.6 351.1" fill="none" stroke="#84804e" stroke-width="0.7"/>
<rect x="385.93" y="379.1" width="2.9" height="2.9" fill="#7d7c46"/>
<rect x="400.75" y="349.35" width="2.9" height="2.9" fill="#7d7c46"/>
<rect x="415.57" y="351.43" width="2.9" height="2.9" fill="#7d7c46"/>
<rect x="430.39" y="349.35" width="2.9" height="2.9" fill="#7d7c46"/>
<rect x="450.15" y="349.65" width="2.9" height="2.9" fill="#7d7c46"/>
<line x1="387.38" y1="382.34" x2="387.38" y2="370.44" stroke="#8a8a8a" stroke-width="0.6"/>
<line x1="385.88" y1="370.44" x2="388.88" y2="370.44" stroke="#8a8a8a" stroke-width="0.6"/>
<line x1="385.88" y1="382.34" x2="388.88" y2="382.34" stroke="#8a8a8a" stroke-width="0.6"/>
<line x1="417.02" y1="354.37" x2="417.02" y2="350.21" stroke="#8a8a8a" stroke-width="0.6"/>
<line x1="415.52" y1="350.21" x2="418.52" y2="350.21" stroke="#8a8a8a" stroke-width="0.6"/>
<line x1="415.52" y1="354.37" x2="418.52" y2="354.37" stroke="#8a8a8a" stroke-width="0.6"/>
<path d="M387.38 376.38 L402.2 350.8 L417.02 352.29 L431.84 350.8 L451.6 351.1" fill="none" stroke="#7d7d7d" stroke-width="0.7"/>
<circle cx="387.38" cy="376.38" r="1.5" fill="#7a7a7a"/>
<circle cx="402.2" cy="350.8" r="1.5" fill="#7a7a7a"/>
<circle cx="417.02" cy="352.29" r="1.5" fill="#7a7a7a"/>
<circle cx="431.84" cy="350.8" r="1.5" fill="#7a7a7a"/>
<circle cx="451.6" cy="351.1" r="1.5" fill="#7a7a7a"/>
<line x1="377.5" y1="344.4" x2="377.5" y2="410.65" stroke="#4d4d4d" stroke-width="0.8"/>
<line x1="377.1" y1="410.3" x2="476.3" y2="410.3" stroke="#4d4d4d" stroke-width="0.8"/>
<line x1="374.9" y1="410.3" x2="377.5" y2="410.3" stroke="#4d4d4d" stroke-width="0.7"/>
<text x="374.5" y="412.75" font-size="6.8" text-anchor="end" stroke="#1a1a1a" stroke-width="0.18" fill="#1a1a1a">0</text>
<line x1="374.9" y1="380.55" x2="377.5" y2="380.55" stroke="#4d4d4d" stroke-width="0.7"/>
<text x="374.5" y="383" font-size="6.8" text-anchor="end" stroke="#1a1a1a" stroke-width="0.18" fill="#1a1a1a">50</text>
<line x1="374.9" y1="350.8" x2="377.5" y2="350.8" stroke="#4d4d4d" stroke-width="0.7"/>
<text x="374.5" y="353.25" font-size="6.8" text-anchor="end" stroke="#1a1a1a" stroke-width="0.18" fill="#1a1a1a">100</text>
<line x1="377.5" y1="410.3" x2="377.5" y2="412.9" stroke="#4d4d4d" stroke-width="0.7"/>
<text x="377.5" y="419.3" font-size="6.8" text-anchor="middle" stroke="#1a1a1a" stroke-width="0.18" fill="#1a1a1a">0</text>
<line x1="402.2" y1="410.3" x2="402.2" y2="412.9" stroke="#4d4d4d" stroke-width="0.7"/>
<text x="402.2" y="419.3" font-size="6.8" text-anchor="middle" stroke="#1a1a1a" stroke-width="0.18" fill="#1a1a1a">5</text>
<line x1="426.9" y1="410.3" x2="426.9" y2="412.9" stroke="#4d4d4d" stroke-width="0.7"/>
<text x="426.9" y="419.3" font-size="6.8" text-anchor="middle" stroke="#1a1a1a" stroke-width="0.18" fill="#1a1a1a">10</text>
<line x1="451.6" y1="410.3" x2="451.6" y2="412.9" stroke="#4d4d4d" stroke-width="0.7"/>
<text x="451.6" y="419.3" font-size="6.8" text-anchor="middle" stroke="#1a1a1a" stroke-width="0.18" fill="#1a1a1a">15</text>
<line x1="476.3" y1="410.3" x2="476.3" y2="412.9" stroke="#4d4d4d" stroke-width="0.7"/>
<text x="476.3" y="419.3" font-size="6.8" text-anchor="middle" stroke="#1a1a1a" stroke-width="0.18" fill="#1a1a1a">20</text>
<text x="427.7" y="428" font-size="6.8" text-anchor="middle" stroke="#1a1a1a" stroke-width="0.18" fill="#1a1a1a">Days</text>
<text x="0" y="0" transform="translate(357.2,379.8) rotate(-90)" font-size="6.6" text-anchor="middle" stroke="#1a1a1a" stroke-width="0.18" fill="#1a1a1a">% Lysis</text>
<line x1="449.7" y1="364.8" x2="456.3" y2="364.8" stroke="#7d7d7d" stroke-width="0.7"/>
<circle cx="453" cy="364.8" r="1.5" fill="#7a7a7a"/>
<text x="458" y="367.3" font-size="7" text-anchor="start" stroke="#1a1a1a" stroke-width="0.18" fill="#1a1a1a">CD22.CD20CAR</text>
<line x1="449.7" y1="373.8" x2="456.3" y2="373.8" stroke="#84804e" stroke-width="0.7"/>
<rect x="451.55" y="372.35" width="2.9" height="2.9" fill="#7d7c46"/>
<text x="458" y="376.3" font-size="7" text-anchor="start" stroke="#1a1a1a" stroke-width="0.18" fill="#1a1a1a">CD20.CD22CAR</text>
<line x1="449.7" y1="382.6" x2="456.3" y2="382.6" stroke="#2aa3bb" stroke-width="0.7"/>
<path d="M453 380.8 L454.6 383.8 L451.4 383.8 Z" fill="#1f9bb5"/>
<text x="458" y="385.1" font-size="7" text-anchor="start" stroke="#1a1a1a" stroke-width="0.18" fill="#1a1a1a">CD22CAR</text>
<line x1="451.6" y1="410.3" x2="451.6" y2="389.5" stroke="#35b3cc" stroke-width="0.6"/>
<line x1="450.1" y1="389.5" x2="453.1" y2="389.5" stroke="#35b3cc" stroke-width="0.6"/>
<text x="1.6" y="453" font-size="12" text-anchor="start" font-weight="bold" stroke="#000" stroke-width="0.2" fill="#000">I</text>
<text x="74.2" y="456.8" font-size="8.5" text-anchor="start" font-weight="bold" stroke="#000" stroke-width="0.2" fill="#000">Wild-type</text>
<rect x="57.6" y="469.5" width="2.38" height="9.9" fill="#1a93ae" stroke="none" stroke-width="0.5"/>
<rect x="59.98" y="469.5" width="37.91" height="9.9" fill="#f0757b" stroke="none" stroke-width="0.5"/>
<rect x="97.89" y="469.5" width="41.14" height="9.9" fill="#a2a2a4" stroke="none" stroke-width="0.5"/>
<rect x="139.03" y="469.5" width="3.57" height="9.9" fill="#0a0a0a" stroke="none" stroke-width="0.5"/>
<line x1="142.6" y1="474.45" x2="149.91" y2="474.45" stroke="#bdbdbd" stroke-width="0.6"/>
<line x1="149.91" y1="472.25" x2="149.91" y2="476.65" stroke="#bdbdbd" stroke-width="0.6"/>
<line x1="59.98" y1="474.45" x2="61.85" y2="474.45" stroke="#b98f86" stroke-width="0.5"/>
<line x1="61.85" y1="472.65" x2="61.85" y2="476.25" stroke="#b98f86" stroke-width="0.5"/>
<line x1="55.2" y1="474.45" x2="57.6" y2="474.45" stroke="#2a7f96" stroke-width="0.7"/>
<text x="53.4" y="476.9" font-size="6.9" text-anchor="end" stroke="#1a1a1a" stroke-width="0.18" fill="#1a1a1a">NTD</text>
<rect x="57.6" y="485.6" width="2.21" height="9.8" fill="#1a93ae" stroke="none" stroke-width="0.5"/>
<rect x="59.81" y="485.6" width="59.67" height="9.8" fill="#f0757b" stroke="none" stroke-width="0.5"/>
<rect x="119.48" y="485.6" width="21.42" height="9.8" fill="#a2a2a4" stroke="none" stroke-width="0.5"/>
<rect x="140.9" y="485.6" width="1.7" height="9.8" fill="#0a0a0a" stroke="none" stroke-width="0.5"/>
<line x1="142.6" y1="490.5" x2="143.45" y2="490.5" stroke="#bdbdbd" stroke-width="0.6"/>
<line x1="143.45" y1="488.3" x2="143.45" y2="492.7" stroke="#bdbdbd" stroke-width="0.6"/>
<line x1="55.2" y1="490.5" x2="57.6" y2="490.5" stroke="#2a7f96" stroke-width="0.7"/>
<text x="53.4" y="492.95" font-size="6.9" text-anchor="end" stroke="#1a1a1a" stroke-width="0.18" fill="#1a1a1a">CD22CAR</text>
<rect x="57.6" y="501.2" width="7.99" height="10.2" fill="#1a93ae" stroke="none" stroke-width="0.5"/>
<rect x="65.59" y="501.2" width="51.68" height="10.2" fill="#f0757b" stroke="none" stroke-width="0.5"/>
<rect x="117.27" y="501.2" width="22.78" height="10.2" fill="#a2a2a4" stroke="none" stroke-width="0.5"/>
<rect x="140.05" y="501.2" width="2.55" height="10.2" fill="#0a0a0a" stroke="none" stroke-width="0.5"/>
<line x1="142.6" y1="506.3" x2="144.3" y2="506.3" stroke="#bdbdbd" stroke-width="0.6"/>
<line x1="144.3" y1="504.1" x2="144.3" y2="508.5" stroke="#bdbdbd" stroke-width="0.6"/>
<line x1="65.59" y1="506.3" x2="69.08" y2="506.3" stroke="#b98f86" stroke-width="0.5"/>
<line x1="69.08" y1="504.5" x2="69.08" y2="508.1" stroke="#b98f86" stroke-width="0.5"/>
<line x1="55.2" y1="506.3" x2="57.6" y2="506.3" stroke="#2a7f96" stroke-width="0.7"/>
<text x="53.4" y="508.75" font-size="6.9" text-anchor="end" stroke="#1a1a1a" stroke-width="0.18" fill="#1a1a1a">CD22.CD20CAR</text>
<rect x="57.6" y="517.2" width="2.55" height="9.8" fill="#1a93ae" stroke="none" stroke-width="0.5"/>
<rect x="60.15" y="517.2" width="51.85" height="9.8" fill="#f0757b" stroke="none" stroke-width="0.5"/>
<rect x="112" y="517.2" width="28.9" height="9.8" fill="#a2a2a4" stroke="none" stroke-width="0.5"/>
<rect x="140.9" y="517.2" width="1.7" height="9.8" fill="#0a0a0a" stroke="none" stroke-width="0.5"/>
<line x1="142.6" y1="522.1" x2="144.3" y2="522.1" stroke="#bdbdbd" stroke-width="0.6"/>
<line x1="144.3" y1="519.9" x2="144.3" y2="524.3" stroke="#bdbdbd" stroke-width="0.6"/>
<line x1="55.2" y1="522.1" x2="57.6" y2="522.1" stroke="#2a7f96" stroke-width="0.7"/>
<text x="53.4" y="524.55" font-size="6.9" text-anchor="end" stroke="#1a1a1a" stroke-width="0.18" fill="#1a1a1a">CD20.CD22CAR</text>
<line x1="57.6" y1="464.4" x2="57.6" y2="533.65" stroke="#2f7d96" stroke-width="0.8"/>
<line x1="57.2" y1="533.3" x2="160" y2="533.3" stroke="#555" stroke-width="0.8"/>
<line x1="57.6" y1="533.3" x2="57.6" y2="535.9" stroke="#555" stroke-width="0.6"/>
<line x1="66.1" y1="533.3" x2="66.1" y2="534.8" stroke="#555" stroke-width="0.6"/>
<line x1="74.6" y1="533.3" x2="74.6" y2="534.8" stroke="#555" stroke-width="0.6"/>
<line x1="83.1" y1="533.3" x2="83.1" y2="534.8" stroke="#555" stroke-width="0.6"/>
<line x1="91.6" y1="533.3" x2="91.6" y2="534.8" stroke="#555" stroke-width="0.6"/>
<line x1="100.1" y1="533.3" x2="100.1" y2="535.9" stroke="#555" stroke-width="0.6"/>
<line x1="108.6" y1="533.3" x2="108.6" y2="534.8" stroke="#555" stroke-width="0.6"/>
<line x1="117.1" y1="533.3" x2="117.1" y2="534.8" stroke="#555" stroke-width="0.6"/>
<line x1="125.6" y1="533.3" x2="125.6" y2="534.8" stroke="#555" stroke-width="0.6"/>
<line x1="134.1" y1="533.3" x2="134.1" y2="534.8" stroke="#555" stroke-width="0.6"/>
<line x1="142.6" y1="533.3" x2="142.6" y2="535.9" stroke="#555" stroke-width="0.6"/>
<line x1="151.1" y1="533.3" x2="151.1" y2="534.8" stroke="#555" stroke-width="0.6"/>
<line x1="159.6" y1="533.3" x2="159.6" y2="534.8" stroke="#555" stroke-width="0.6"/>
<text x="57.6" y="542.6" font-size="6.6" text-anchor="middle" stroke="#1a1a1a" stroke-width="0.18" fill="#1a1a1a">0</text>
<text x="100.1" y="542.6" font-size="6.6" text-anchor="middle" stroke="#1a1a1a" stroke-width="0.18" fill="#1a1a1a">50</text>
<text x="142.6" y="542.6" font-size="6.6" text-anchor="middle" stroke="#1a1a1a" stroke-width="0.18" fill="#1a1a1a">100</text>
<text x="194.4" y="454" font-size="12" text-anchor="start" font-weight="bold" stroke="#000" stroke-width="0.2" fill="#000">J</text>
<text x="236.6" y="456.6" font-size="8.5" font-weight="bold" fill="#000">CD20<tspan font-size="4.6" dy="-3.1">−</tspan><tspan dy="3.1">CD22</tspan><tspan font-size="4.6" dy="-3.1">+</tspan></text>
<rect x="234.9" y="469.5" width="2.37" height="9.9" fill="#1a93ae" stroke="none" stroke-width="0.5"/>
<rect x="237.27" y="469.5" width="42.91" height="9.9" fill="#f0757b" stroke="none" stroke-width="0.5"/>
<rect x="280.18" y="469.5" width="36.29" height="9.9" fill="#a2a2a4" stroke="none" stroke-width="0.5"/>
<rect x="316.48" y="469.5" width="3.22" height="9.9" fill="#0a0a0a" stroke="none" stroke-width="0.5"/>
<line x1="319.7" y1="474.45" x2="329.88" y2="474.45" stroke="#bdbdbd" stroke-width="0.6"/>
<line x1="329.88" y1="472.25" x2="329.88" y2="476.65" stroke="#bdbdbd" stroke-width="0.6"/>
<line x1="237.27" y1="474.45" x2="239.14" y2="474.45" stroke="#b98f86" stroke-width="0.5"/>
<line x1="239.14" y1="472.65" x2="239.14" y2="476.25" stroke="#b98f86" stroke-width="0.5"/>
<line x1="232.5" y1="474.45" x2="234.9" y2="474.45" stroke="#2a7f96" stroke-width="0.7"/>
<text x="230.9" y="476.9" font-size="6.9" text-anchor="end" stroke="#1a1a1a" stroke-width="0.18" fill="#1a1a1a">NTD</text>
<rect x="234.9" y="485.2" width="2.04" height="10.1" fill="#1a93ae" stroke="none" stroke-width="0.5"/>
<rect x="236.94" y="485.2" width="62.92" height="10.1" fill="#f0757b" stroke="none" stroke-width="0.5"/>
<rect x="299.86" y="485.2" width="18.32" height="10.1" fill="#a2a2a4" stroke="none" stroke-width="0.5"/>
<rect x="318.17" y="485.2" width="1.53" height="10.1" fill="#0a0a0a" stroke="none" stroke-width="0.5"/>
<line x1="319.7" y1="490.25" x2="320.55" y2="490.25" stroke="#bdbdbd" stroke-width="0.6"/>
<line x1="320.55" y1="488.05" x2="320.55" y2="492.45" stroke="#bdbdbd" stroke-width="0.6"/>
<line x1="232.5" y1="490.25" x2="234.9" y2="490.25" stroke="#2a7f96" stroke-width="0.7"/>
<text x="230.9" y="492.7" font-size="6.9" text-anchor="end" stroke="#1a1a1a" stroke-width="0.18" fill="#1a1a1a">CD22CAR</text>
<rect x="234.9" y="501.2" width="6.78" height="9.7" fill="#1a93ae" stroke="none" stroke-width="0.5"/>
<rect x="241.68" y="501.2" width="52.24" height="9.7" fill="#f0757b" stroke="none" stroke-width="0.5"/>
<rect x="293.92" y="501.2" width="21.88" height="9.7" fill="#a2a2a4" stroke="none" stroke-width="0.5"/>
<rect x="315.8" y="501.2" width="3.9" height="9.7" fill="#0a0a0a" stroke="none" stroke-width="0.5"/>
<line x1="319.7" y1="506.05" x2="321.74" y2="506.05" stroke="#bdbdbd" stroke-width="0.6"/>
<line x1="321.74" y1="503.85" x2="321.74" y2="508.25" stroke="#bdbdbd" stroke-width="0.6"/>
<line x1="232.5" y1="506.05" x2="234.9" y2="506.05" stroke="#2a7f96" stroke-width="0.7"/>
<text x="230.9" y="508.5" font-size="6.9" text-anchor="end" stroke="#1a1a1a" stroke-width="0.18" fill="#1a1a1a">CD22.CD20CAR</text>
<rect x="234.9" y="516.6" width="4.75" height="9.8" fill="#1a93ae" stroke="none" stroke-width="0.5"/>
<rect x="239.65" y="516.6" width="61.73" height="9.8" fill="#f0757b" stroke="none" stroke-width="0.5"/>
<rect x="301.38" y="516.6" width="16.28" height="9.8" fill="#a2a2a4" stroke="none" stroke-width="0.5"/>
<rect x="317.66" y="516.6" width="2.04" height="9.8" fill="#0a0a0a" stroke="none" stroke-width="0.5"/>
<line x1="319.7" y1="521.5" x2="322.24" y2="521.5" stroke="#bdbdbd" stroke-width="0.6"/>
<line x1="322.24" y1="519.3" x2="322.24" y2="523.7" stroke="#bdbdbd" stroke-width="0.6"/>
<line x1="232.5" y1="521.5" x2="234.9" y2="521.5" stroke="#2a7f96" stroke-width="0.7"/>
<text x="230.9" y="523.95" font-size="6.9" text-anchor="end" stroke="#1a1a1a" stroke-width="0.18" fill="#1a1a1a">CD20.CD22CAR</text>
<line x1="234.9" y1="464.4" x2="234.9" y2="532.65" stroke="#2f7d96" stroke-width="0.8"/>
<line x1="234.5" y1="532.3" x2="336.6" y2="532.3" stroke="#555" stroke-width="0.8"/>
<line x1="234.9" y1="532.3" x2="234.9" y2="534.9" stroke="#555" stroke-width="0.6"/>
<line x1="243.38" y1="532.3" x2="243.38" y2="533.8" stroke="#555" stroke-width="0.6"/>
<line x1="251.86" y1="532.3" x2="251.86" y2="533.8" stroke="#555" stroke-width="0.6"/>
<line x1="260.34" y1="532.3" x2="260.34" y2="533.8" stroke="#555" stroke-width="0.6"/>
<line x1="268.82" y1="532.3" x2="268.82" y2="533.8" stroke="#555" stroke-width="0.6"/>
<line x1="277.3" y1="532.3" x2="277.3" y2="534.9" stroke="#555" stroke-width="0.6"/>
<line x1="285.78" y1="532.3" x2="285.78" y2="533.8" stroke="#555" stroke-width="0.6"/>
<line x1="294.26" y1="532.3" x2="294.26" y2="533.8" stroke="#555" stroke-width="0.6"/>
<line x1="302.74" y1="532.3" x2="302.74" y2="533.8" stroke="#555" stroke-width="0.6"/>
<line x1="311.22" y1="532.3" x2="311.22" y2="533.8" stroke="#555" stroke-width="0.6"/>
<line x1="319.7" y1="532.3" x2="319.7" y2="534.9" stroke="#555" stroke-width="0.6"/>
<line x1="328.18" y1="532.3" x2="328.18" y2="533.8" stroke="#555" stroke-width="0.6"/>
<line x1="336.66" y1="532.3" x2="336.66" y2="533.8" stroke="#555" stroke-width="0.6"/>
<text x="234.9" y="542.4" font-size="6.6" text-anchor="middle" stroke="#1a1a1a" stroke-width="0.18" fill="#1a1a1a">0</text>
<text x="277.3" y="542.4" font-size="6.6" text-anchor="middle" stroke="#1a1a1a" stroke-width="0.18" fill="#1a1a1a">50</text>
<text x="319.7" y="542.4" font-size="6.6" text-anchor="middle" stroke="#1a1a1a" stroke-width="0.18" fill="#1a1a1a">100</text>
<text x="386.6" y="453.7" font-size="12" text-anchor="start" font-weight="bold" stroke="#000" stroke-width="0.2" fill="#000">K</text>
<text x="439.6" y="456" font-size="8.5" font-weight="bold" fill="#000">CD20<tspan font-size="4.6" dy="-3.1">+</tspan><tspan dy="3.1">CD22</tspan><tspan font-size="4.6" dy="-3.1">−</tspan></text>
<rect x="415.3" y="467.9" width="1.39" height="9.9" fill="#1a93ae" stroke="none" stroke-width="0.5"/>
<rect x="416.69" y="467.9" width="36.11" height="9.9" fill="#f0757b" stroke="none" stroke-width="0.5"/>
<rect x="452.8" y="467.9" width="45.31" height="9.9" fill="#a2a2a4" stroke="none" stroke-width="0.5"/>
<rect x="498.11" y="467.9" width="3.99" height="9.9" fill="#0a0a0a" stroke="none" stroke-width="0.5"/>
<line x1="502.1" y1="472.85" x2="515.12" y2="472.85" stroke="#bdbdbd" stroke-width="0.6"/>
<line x1="515.12" y1="470.65" x2="515.12" y2="475.05" stroke="#bdbdbd" stroke-width="0.6"/>
<line x1="412.9" y1="472.85" x2="415.3" y2="472.85" stroke="#2a7f96" stroke-width="0.7"/>
<text x="411.3" y="475.3" font-size="6.9" text-anchor="end" stroke="#1a1a1a" stroke-width="0.18" fill="#1a1a1a">NTD</text>
<rect x="415.3" y="483.9" width="0.35" height="9.9" fill="#1a93ae" stroke="none" stroke-width="0.5"/>
<rect x="415.65" y="483.9" width="21.01" height="9.9" fill="#f0757b" stroke="none" stroke-width="0.5"/>
<rect x="436.65" y="483.9" width="57.46" height="9.9" fill="#a2a2a4" stroke="none" stroke-width="0.5"/>
<rect x="494.11" y="483.9" width="7.99" height="9.9" fill="#0a0a0a" stroke="none" stroke-width="0.5"/>
<line x1="502.1" y1="488.85" x2="505.57" y2="488.85" stroke="#bdbdbd" stroke-width="0.6"/>
<line x1="505.57" y1="486.65" x2="505.57" y2="491.05" stroke="#bdbdbd" stroke-width="0.6"/>
<line x1="412.9" y1="488.85" x2="415.3" y2="488.85" stroke="#2a7f96" stroke-width="0.7"/>
<text x="411.3" y="491.3" font-size="6.9" text-anchor="end" stroke="#1a1a1a" stroke-width="0.18" fill="#1a1a1a">CD22CAR</text>
<rect x="415.3" y="499.7" width="2.6" height="10.1" fill="#1a93ae" stroke="none" stroke-width="0.5"/>
<rect x="417.9" y="499.7" width="60.24" height="10.1" fill="#f0757b" stroke="none" stroke-width="0.5"/>
<rect x="478.14" y="499.7" width="22.74" height="10.1" fill="#a2a2a4" stroke="none" stroke-width="0.5"/>
<rect x="500.88" y="499.7" width="1.22" height="10.1" fill="#0a0a0a" stroke="none" stroke-width="0.5"/>
<line x1="502.1" y1="504.75" x2="506.44" y2="504.75" stroke="#bdbdbd" stroke-width="0.6"/>
<line x1="506.44" y1="502.55" x2="506.44" y2="506.95" stroke="#bdbdbd" stroke-width="0.6"/>
<line x1="412.9" y1="504.75" x2="415.3" y2="504.75" stroke="#2a7f96" stroke-width="0.7"/>
<text x="411.3" y="507.2" font-size="6.9" text-anchor="end" stroke="#1a1a1a" stroke-width="0.18" fill="#1a1a1a">CD22.CD20CAR</text>
<rect x="415.3" y="515.7" width="6.42" height="10.3" fill="#1a93ae" stroke="none" stroke-width="0.5"/>
<rect x="421.72" y="515.7" width="58.33" height="10.3" fill="#f0757b" stroke="none" stroke-width="0.5"/>
<rect x="480.05" y="515.7" width="19.27" height="10.3" fill="#a2a2a4" stroke="none" stroke-width="0.5"/>
<rect x="499.32" y="515.7" width="2.78" height="10.3" fill="#0a0a0a" stroke="none" stroke-width="0.5"/>
<line x1="502.1" y1="520.85" x2="503.49" y2="520.85" stroke="#bdbdbd" stroke-width="0.6"/>
<line x1="503.49" y1="518.65" x2="503.49" y2="523.05" stroke="#bdbdbd" stroke-width="0.6"/>
<line x1="421.72" y1="520.85" x2="426.06" y2="520.85" stroke="#b98f86" stroke-width="0.5"/>
<line x1="426.06" y1="519.05" x2="426.06" y2="522.65" stroke="#b98f86" stroke-width="0.5"/>
<line x1="412.9" y1="520.85" x2="415.3" y2="520.85" stroke="#2a7f96" stroke-width="0.7"/>
<text x="411.3" y="523.3" font-size="6.9" text-anchor="end" stroke="#1a1a1a" stroke-width="0.18" fill="#1a1a1a">CD20.CD22CAR</text>
<line x1="415.3" y1="462.1" x2="415.3" y2="531.55" stroke="#2f7d96" stroke-width="0.8"/>
<line x1="414.9" y1="531.2" x2="520" y2="531.2" stroke="#555" stroke-width="0.8"/>
<line x1="415.3" y1="531.2" x2="415.3" y2="533.8" stroke="#555" stroke-width="0.6"/>
<line x1="423.98" y1="531.2" x2="423.98" y2="532.7" stroke="#555" stroke-width="0.6"/>
<line x1="432.66" y1="531.2" x2="432.66" y2="532.7" stroke="#555" stroke-width="0.6"/>
<line x1="441.34" y1="531.2" x2="441.34" y2="532.7" stroke="#555" stroke-width="0.6"/>
<line x1="450.02" y1="531.2" x2="450.02" y2="532.7" stroke="#555" stroke-width="0.6"/>
<line x1="458.7" y1="531.2" x2="458.7" y2="533.8" stroke="#555" stroke-width="0.6"/>
<line x1="467.38" y1="531.2" x2="467.38" y2="532.7" stroke="#555" stroke-width="0.6"/>
<line x1="476.06" y1="531.2" x2="476.06" y2="532.7" stroke="#555" stroke-width="0.6"/>
<line x1="484.74" y1="531.2" x2="484.74" y2="532.7" stroke="#555" stroke-width="0.6"/>
<line x1="493.42" y1="531.2" x2="493.42" y2="532.7" stroke="#555" stroke-width="0.6"/>
<line x1="502.1" y1="531.2" x2="502.1" y2="533.8" stroke="#555" stroke-width="0.6"/>
<line x1="510.78" y1="531.2" x2="510.78" y2="532.7" stroke="#555" stroke-width="0.6"/>
<line x1="519.46" y1="531.2" x2="519.46" y2="532.7" stroke="#555" stroke-width="0.6"/>
<text x="415.3" y="542" font-size="6.6" text-anchor="middle" stroke="#1a1a1a" stroke-width="0.18" fill="#1a1a1a">0</text>
<text x="458.7" y="542" font-size="6.6" text-anchor="middle" stroke="#1a1a1a" stroke-width="0.18" fill="#1a1a1a">50</text>
<text x="502.1" y="542" font-size="6.6" text-anchor="middle" stroke="#1a1a1a" stroke-width="0.18" fill="#1a1a1a">100</text>
<rect x="23.4" y="551.9" width="7.2" height="3.4" fill="#1a93ae" stroke="none" stroke-width="0.5"/>
<text x="33.8" y="556" font-size="6.8" text-anchor="start" stroke="#1a1a1a" stroke-width="0.18" fill="#1a1a1a">Tn/scm</text>
<rect x="61.4" y="551.9" width="6.4" height="3.4" fill="#f0757b" stroke="none" stroke-width="0.5"/>
<text x="71" y="556" font-size="6.8" text-anchor="start" stroke="#1a1a1a" stroke-width="0.18" fill="#1a1a1a">Tcm</text>
<rect x="89.6" y="551.9" width="6.8" height="3.4" fill="#a2a2a4" stroke="none" stroke-width="0.5"/>
<text x="101.2" y="556" font-size="6.8" text-anchor="start" stroke="#1a1a1a" stroke-width="0.18" fill="#1a1a1a">Tem</text>
<rect x="120.4" y="551.9" width="7.4" height="3.4" fill="#0a0a0a" stroke="none" stroke-width="0.5"/>
<text x="132.6" y="556" font-size="6.8" text-anchor="start" stroke="#1a1a1a" stroke-width="0.18" fill="#1a1a1a">Temra</text>
</svg>
</body>
</html>
